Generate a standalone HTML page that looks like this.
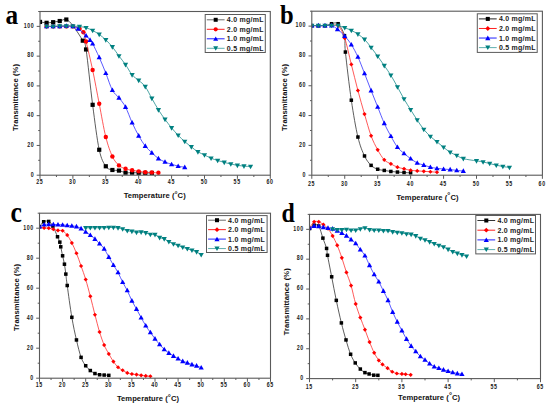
<!DOCTYPE html>
<html><head><meta charset="utf-8"><style>
html,body{margin:0;padding:0;background:#fff;}
body{width:550px;height:406px;overflow:hidden;font-family:"Liberation Sans",sans-serif;}
svg{display:block;}
</style></head><body>
<svg width="550" height="406" viewBox="0 0 550 406">
<rect width="550" height="406" fill="#fff"/>
<clipPath id="ca"><rect x="40.00" y="7.50" width="234.30" height="167.70"/></clipPath>
<g clip-path="url(#ca)"><path d="M40.00,21.92 C41.10,22.07 44.39,22.76 46.58,22.81 C48.77,22.86 50.97,22.51 53.16,22.21 C55.35,21.92 57.55,21.47 59.74,21.02 C61.93,20.58 64.13,18.77 66.32,19.54 C68.51,20.31 70.16,22.12 72.90,25.64 C75.64,29.16 80.58,36.70 82.77,40.67 C84.96,44.64 84.42,38.76 86.06,49.45 C87.70,60.14 90.45,88.09 92.64,104.81 C94.83,121.53 97.03,139.51 99.22,149.75 C101.41,160.00 103.61,162.90 105.80,166.27 C107.99,169.64 110.19,169.27 112.38,169.99 C114.57,170.71 116.77,170.14 118.96,170.59 C121.15,171.03 123.35,172.32 125.54,172.67 C127.73,173.02 129.93,172.65 132.12,172.67 C134.31,172.69 136.51,172.77 138.70,172.82 C140.89,172.87 143.09,172.94 145.28,172.97 C147.47,172.99 150.76,172.97 151.86,172.97" fill="none" stroke="#333333" stroke-width="0.80"/><rect x="37.90" y="19.82" width="4.20" height="4.20" fill="#000000"/><rect x="44.48" y="20.71" width="4.20" height="4.20" fill="#000000"/><rect x="51.06" y="20.11" width="4.20" height="4.20" fill="#000000"/><rect x="57.64" y="18.92" width="4.20" height="4.20" fill="#000000"/><rect x="64.22" y="17.44" width="4.20" height="4.20" fill="#000000"/><rect x="80.67" y="38.57" width="4.20" height="4.20" fill="#000000"/><rect x="83.96" y="47.35" width="4.20" height="4.20" fill="#000000"/><rect x="90.54" y="102.71" width="4.20" height="4.20" fill="#000000"/><rect x="97.12" y="147.65" width="4.20" height="4.20" fill="#000000"/><rect x="103.70" y="164.17" width="4.20" height="4.20" fill="#000000"/><rect x="110.28" y="167.89" width="4.20" height="4.20" fill="#000000"/><rect x="116.86" y="168.49" width="4.20" height="4.20" fill="#000000"/><rect x="123.44" y="170.57" width="4.20" height="4.20" fill="#000000"/><rect x="130.02" y="170.57" width="4.20" height="4.20" fill="#000000"/><rect x="136.60" y="170.72" width="4.20" height="4.20" fill="#000000"/><rect x="143.18" y="170.87" width="4.20" height="4.20" fill="#000000"/><rect x="149.76" y="170.87" width="4.20" height="4.20" fill="#000000"/><path d="M46.58,26.38 C47.68,26.38 50.97,26.38 53.16,26.38 C55.35,26.38 57.55,26.38 59.74,26.38 C61.93,26.38 64.13,26.38 66.32,26.38 C68.51,26.38 70.71,26.01 72.90,26.38 C75.09,26.75 77.73,27.65 79.48,28.61 C81.23,29.58 82.33,30.03 83.43,32.19 C84.52,34.34 84.52,35.26 86.06,41.56 C87.60,47.86 90.45,59.62 92.64,69.99 C94.83,80.35 97.03,92.61 99.22,103.77 C101.41,114.93 103.61,128.17 105.80,136.95 C107.99,145.73 110.19,151.71 112.38,156.45 C114.57,161.19 116.77,163.32 118.96,165.38 C121.15,167.44 123.35,167.98 125.54,168.80 C127.73,169.62 129.93,169.87 132.12,170.29 C134.31,170.71 136.51,171.01 138.70,171.33 C140.89,171.65 143.09,172.03 145.28,172.22 C147.47,172.42 149.67,172.42 151.86,172.52 C154.05,172.62 157.34,172.77 158.44,172.82" fill="none" stroke="#ff3030" stroke-width="0.80"/><circle cx="46.58" cy="26.38" r="2.20" fill="#ff0000"/><circle cx="53.16" cy="26.38" r="2.20" fill="#ff0000"/><circle cx="59.74" cy="26.38" r="2.20" fill="#ff0000"/><circle cx="66.32" cy="26.38" r="2.20" fill="#ff0000"/><circle cx="72.90" cy="26.38" r="2.20" fill="#ff0000"/><circle cx="79.48" cy="28.61" r="2.20" fill="#ff0000"/><circle cx="83.43" cy="32.19" r="2.20" fill="#ff0000"/><circle cx="86.06" cy="41.56" r="2.20" fill="#ff0000"/><circle cx="92.64" cy="69.99" r="2.20" fill="#ff0000"/><circle cx="99.22" cy="103.77" r="2.20" fill="#ff0000"/><circle cx="105.80" cy="136.95" r="2.20" fill="#ff0000"/><circle cx="112.38" cy="156.45" r="2.20" fill="#ff0000"/><circle cx="118.96" cy="165.38" r="2.20" fill="#ff0000"/><circle cx="125.54" cy="168.80" r="2.20" fill="#ff0000"/><circle cx="132.12" cy="170.29" r="2.20" fill="#ff0000"/><circle cx="138.70" cy="171.33" r="2.20" fill="#ff0000"/><circle cx="145.28" cy="172.22" r="2.20" fill="#ff0000"/><circle cx="151.86" cy="172.52" r="2.20" fill="#ff0000"/><circle cx="158.44" cy="172.82" r="2.20" fill="#ff0000"/><path d="M46.58,26.38 C47.68,26.38 50.97,26.38 53.16,26.38 C55.35,26.38 57.55,26.46 59.74,26.38 C61.93,26.31 64.13,25.94 66.32,25.94 C68.51,25.94 70.93,25.91 72.90,26.38 C74.87,26.85 75.97,27.23 78.16,28.76 C80.36,30.30 84.09,33.72 86.06,35.61 C88.03,37.49 88.91,38.73 90.01,40.07 C91.10,41.41 91.10,40.77 92.64,43.64 C94.18,46.52 97.03,52.42 99.22,57.34 C101.41,62.25 103.61,67.63 105.80,73.11 C107.99,78.59 110.19,86.11 112.38,90.22 C114.57,94.34 116.77,95.01 118.96,97.81 C121.15,100.62 123.35,102.90 125.54,107.04 C127.73,111.18 129.93,117.88 132.12,122.67 C134.31,127.45 136.51,131.87 138.70,135.76 C140.89,139.66 143.09,143.20 145.28,146.03 C147.47,148.86 149.67,150.64 151.86,152.73 C154.05,154.81 156.25,156.99 158.44,158.53 C160.63,160.07 162.83,160.99 165.02,161.96 C167.21,162.92 169.41,163.64 171.60,164.34 C173.79,165.03 175.99,165.63 178.18,166.12 C180.37,166.62 183.66,167.11 184.76,167.31" fill="none" stroke="#3030ff" stroke-width="0.80"/><path d="M46.58,23.68L49.18,28.28L43.98,28.28Z" fill="#0000ff"/><path d="M53.16,23.68L55.76,28.28L50.56,28.28Z" fill="#0000ff"/><path d="M59.74,23.68L62.34,28.28L57.14,28.28Z" fill="#0000ff"/><path d="M66.32,23.24L68.92,27.84L63.72,27.84Z" fill="#0000ff"/><path d="M72.90,23.68L75.50,28.28L70.30,28.28Z" fill="#0000ff"/><path d="M78.16,26.06L80.76,30.66L75.56,30.66Z" fill="#0000ff"/><path d="M86.06,32.91L88.66,37.51L83.46,37.51Z" fill="#0000ff"/><path d="M90.01,37.37L92.61,41.97L87.41,41.97Z" fill="#0000ff"/><path d="M92.64,40.94L95.24,45.54L90.04,45.54Z" fill="#0000ff"/><path d="M99.22,54.64L101.82,59.24L96.62,59.24Z" fill="#0000ff"/><path d="M105.80,70.41L108.40,75.01L103.20,75.01Z" fill="#0000ff"/><path d="M112.38,87.52L114.98,92.12L109.78,92.12Z" fill="#0000ff"/><path d="M118.96,95.11L121.56,99.71L116.36,99.71Z" fill="#0000ff"/><path d="M125.54,104.34L128.14,108.94L122.94,108.94Z" fill="#0000ff"/><path d="M132.12,119.97L134.72,124.57L129.52,124.57Z" fill="#0000ff"/><path d="M138.70,133.06L141.30,137.66L136.10,137.66Z" fill="#0000ff"/><path d="M145.28,143.33L147.88,147.93L142.68,147.93Z" fill="#0000ff"/><path d="M151.86,150.03L154.46,154.63L149.26,154.63Z" fill="#0000ff"/><path d="M158.44,155.83L161.04,160.43L155.84,160.43Z" fill="#0000ff"/><path d="M165.02,159.26L167.62,163.86L162.42,163.86Z" fill="#0000ff"/><path d="M171.60,161.64L174.20,166.24L169.00,166.24Z" fill="#0000ff"/><path d="M178.18,163.42L180.78,168.02L175.58,168.02Z" fill="#0000ff"/><path d="M184.76,164.61L187.36,169.21L182.16,169.21Z" fill="#0000ff"/><path d="M46.58,26.38 C47.68,26.38 50.97,26.46 53.16,26.38 C55.35,26.31 57.55,26.01 59.74,25.94 C61.93,25.86 64.13,25.94 66.32,25.94 C68.51,25.94 70.71,25.84 72.90,25.94 C75.09,26.03 77.29,26.23 79.48,26.53 C81.67,26.83 83.87,27.05 86.06,27.72 C88.25,28.39 90.45,29.43 92.64,30.55 C94.83,31.66 97.03,32.86 99.22,34.42 C101.41,35.98 103.61,37.84 105.80,39.92 C107.99,42.01 110.19,44.24 112.38,46.92 C114.57,49.60 116.77,53.05 118.96,56.00 C121.15,58.95 123.35,61.48 125.54,64.63 C127.73,67.78 129.93,72.27 132.12,74.90 C134.31,77.53 136.51,78.44 138.70,80.40 C140.89,82.36 143.09,83.65 145.28,86.65 C147.47,89.65 149.67,94.54 151.86,98.41 C154.05,102.28 156.25,106.37 158.44,109.87 C160.63,113.37 162.83,116.39 165.02,119.39 C167.21,122.39 169.41,125.22 171.60,127.88 C173.79,130.53 175.99,133.03 178.18,135.32 C180.37,137.60 182.57,139.63 184.76,141.57 C186.95,143.50 189.15,145.21 191.34,146.92 C193.53,148.64 195.73,150.50 197.92,151.84 C200.11,153.17 202.31,153.89 204.50,154.96 C206.69,156.03 208.89,157.32 211.08,158.23 C213.27,159.15 215.47,159.77 217.66,160.47 C219.85,161.16 222.05,161.81 224.24,162.40 C226.43,163.00 228.63,163.54 230.82,164.04 C233.01,164.53 235.21,165.03 237.40,165.38 C239.59,165.73 241.79,165.92 243.98,166.12 C246.17,166.32 249.46,166.49 250.56,166.57" fill="none" stroke="#1a8c8c" stroke-width="0.80"/><path d="M46.58,29.18L49.18,24.58L43.98,24.58Z" fill="#008080"/><path d="M53.16,29.18L55.76,24.58L50.56,24.58Z" fill="#008080"/><path d="M59.74,28.74L62.34,24.14L57.14,24.14Z" fill="#008080"/><path d="M66.32,28.74L68.92,24.14L63.72,24.14Z" fill="#008080"/><path d="M72.90,28.74L75.50,24.14L70.30,24.14Z" fill="#008080"/><path d="M79.48,29.33L82.08,24.73L76.88,24.73Z" fill="#008080"/><path d="M86.06,30.52L88.66,25.92L83.46,25.92Z" fill="#008080"/><path d="M92.64,33.35L95.24,28.75L90.04,28.75Z" fill="#008080"/><path d="M99.22,37.22L101.82,32.62L96.62,32.62Z" fill="#008080"/><path d="M105.80,42.72L108.40,38.12L103.20,38.12Z" fill="#008080"/><path d="M112.38,49.72L114.98,45.12L109.78,45.12Z" fill="#008080"/><path d="M118.96,58.80L121.56,54.20L116.36,54.20Z" fill="#008080"/><path d="M125.54,67.43L128.14,62.83L122.94,62.83Z" fill="#008080"/><path d="M132.12,77.70L134.72,73.10L129.52,73.10Z" fill="#008080"/><path d="M138.70,83.20L141.30,78.60L136.10,78.60Z" fill="#008080"/><path d="M145.28,89.45L147.88,84.85L142.68,84.85Z" fill="#008080"/><path d="M151.86,101.21L154.46,96.61L149.26,96.61Z" fill="#008080"/><path d="M158.44,112.67L161.04,108.07L155.84,108.07Z" fill="#008080"/><path d="M165.02,122.19L167.62,117.59L162.42,117.59Z" fill="#008080"/><path d="M171.60,130.68L174.20,126.08L169.00,126.08Z" fill="#008080"/><path d="M178.18,138.12L180.78,133.52L175.58,133.52Z" fill="#008080"/><path d="M184.76,144.37L187.36,139.77L182.16,139.77Z" fill="#008080"/><path d="M191.34,149.72L193.94,145.12L188.74,145.12Z" fill="#008080"/><path d="M197.92,154.64L200.52,150.04L195.32,150.04Z" fill="#008080"/><path d="M204.50,157.76L207.10,153.16L201.90,153.16Z" fill="#008080"/><path d="M211.08,161.03L213.68,156.43L208.48,156.43Z" fill="#008080"/><path d="M217.66,163.27L220.26,158.67L215.06,158.67Z" fill="#008080"/><path d="M224.24,165.20L226.84,160.60L221.64,160.60Z" fill="#008080"/><path d="M230.82,166.84L233.42,162.24L228.22,162.24Z" fill="#008080"/><path d="M237.40,168.18L240.00,163.58L234.80,163.58Z" fill="#008080"/><path d="M243.98,168.92L246.58,164.32L241.38,164.32Z" fill="#008080"/><path d="M250.56,169.37L253.16,164.77L247.96,164.77Z" fill="#008080"/></g>
<rect x="40.00" y="11.50" width="230.30" height="163.70" fill="none" stroke="#5a5a5a" stroke-width="1.1"/>
<line x1="40.00" y1="175.20" x2="40.00" y2="178.80" stroke="#5a5a5a" stroke-width="1"/>
<line x1="72.90" y1="175.20" x2="72.90" y2="178.80" stroke="#5a5a5a" stroke-width="1"/>
<line x1="105.80" y1="175.20" x2="105.80" y2="178.80" stroke="#5a5a5a" stroke-width="1"/>
<line x1="138.70" y1="175.20" x2="138.70" y2="178.80" stroke="#5a5a5a" stroke-width="1"/>
<line x1="171.60" y1="175.20" x2="171.60" y2="178.80" stroke="#5a5a5a" stroke-width="1"/>
<line x1="204.50" y1="175.20" x2="204.50" y2="178.80" stroke="#5a5a5a" stroke-width="1"/>
<line x1="237.40" y1="175.20" x2="237.40" y2="178.80" stroke="#5a5a5a" stroke-width="1"/>
<line x1="270.30" y1="175.20" x2="270.30" y2="178.80" stroke="#5a5a5a" stroke-width="1"/>
<line x1="56.45" y1="175.20" x2="56.45" y2="177.00" stroke="#5a5a5a" stroke-width="1"/>
<line x1="89.35" y1="175.20" x2="89.35" y2="177.00" stroke="#5a5a5a" stroke-width="1"/>
<line x1="122.25" y1="175.20" x2="122.25" y2="177.00" stroke="#5a5a5a" stroke-width="1"/>
<line x1="155.15" y1="175.20" x2="155.15" y2="177.00" stroke="#5a5a5a" stroke-width="1"/>
<line x1="188.05" y1="175.20" x2="188.05" y2="177.00" stroke="#5a5a5a" stroke-width="1"/>
<line x1="220.95" y1="175.20" x2="220.95" y2="177.00" stroke="#5a5a5a" stroke-width="1"/>
<line x1="253.85" y1="175.20" x2="253.85" y2="177.00" stroke="#5a5a5a" stroke-width="1"/>
<line x1="36.70" y1="175.20" x2="40.00" y2="175.20" stroke="#5a5a5a" stroke-width="1"/>
<line x1="36.70" y1="145.44" x2="40.00" y2="145.44" stroke="#5a5a5a" stroke-width="1"/>
<line x1="36.70" y1="115.67" x2="40.00" y2="115.67" stroke="#5a5a5a" stroke-width="1"/>
<line x1="36.70" y1="85.91" x2="40.00" y2="85.91" stroke="#5a5a5a" stroke-width="1"/>
<line x1="36.70" y1="56.15" x2="40.00" y2="56.15" stroke="#5a5a5a" stroke-width="1"/>
<line x1="36.70" y1="26.38" x2="40.00" y2="26.38" stroke="#5a5a5a" stroke-width="1"/>
<line x1="38.20" y1="160.32" x2="40.00" y2="160.32" stroke="#5a5a5a" stroke-width="1"/>
<line x1="38.20" y1="130.55" x2="40.00" y2="130.55" stroke="#5a5a5a" stroke-width="1"/>
<line x1="38.20" y1="100.79" x2="40.00" y2="100.79" stroke="#5a5a5a" stroke-width="1"/>
<line x1="38.20" y1="71.03" x2="40.00" y2="71.03" stroke="#5a5a5a" stroke-width="1"/>
<line x1="38.20" y1="41.26" x2="40.00" y2="41.26" stroke="#5a5a5a" stroke-width="1"/>
<line x1="38.20" y1="11.50" x2="40.00" y2="11.50" stroke="#5a5a5a" stroke-width="1"/>
<text transform="translate(39.80,184.20) scale(0.800,1)" font-size="6.6" font-family="Liberation Sans, sans-serif" font-weight="bold" text-anchor="middle" fill="#1a1a1a" letter-spacing="0.8">25</text>
<text transform="translate(72.70,184.20) scale(0.800,1)" font-size="6.6" font-family="Liberation Sans, sans-serif" font-weight="bold" text-anchor="middle" fill="#1a1a1a" letter-spacing="0.8">30</text>
<text transform="translate(105.60,184.20) scale(0.800,1)" font-size="6.6" font-family="Liberation Sans, sans-serif" font-weight="bold" text-anchor="middle" fill="#1a1a1a" letter-spacing="0.8">35</text>
<text transform="translate(138.50,184.20) scale(0.800,1)" font-size="6.6" font-family="Liberation Sans, sans-serif" font-weight="bold" text-anchor="middle" fill="#1a1a1a" letter-spacing="0.8">40</text>
<text transform="translate(171.40,184.20) scale(0.800,1)" font-size="6.6" font-family="Liberation Sans, sans-serif" font-weight="bold" text-anchor="middle" fill="#1a1a1a" letter-spacing="0.8">45</text>
<text transform="translate(204.30,184.20) scale(0.800,1)" font-size="6.6" font-family="Liberation Sans, sans-serif" font-weight="bold" text-anchor="middle" fill="#1a1a1a" letter-spacing="0.8">50</text>
<text transform="translate(237.20,184.20) scale(0.800,1)" font-size="6.6" font-family="Liberation Sans, sans-serif" font-weight="bold" text-anchor="middle" fill="#1a1a1a" letter-spacing="0.8">55</text>
<text transform="translate(270.10,184.20) scale(0.800,1)" font-size="6.6" font-family="Liberation Sans, sans-serif" font-weight="bold" text-anchor="middle" fill="#1a1a1a" letter-spacing="0.8">60</text>
<text transform="translate(34.40,176.50) scale(0.800,1)" font-size="6.6" font-family="Liberation Sans, sans-serif" font-weight="bold" text-anchor="end" fill="#1a1a1a" letter-spacing="0.8">0</text>
<text transform="translate(34.40,146.74) scale(0.800,1)" font-size="6.6" font-family="Liberation Sans, sans-serif" font-weight="bold" text-anchor="end" fill="#1a1a1a" letter-spacing="0.8">20</text>
<text transform="translate(34.40,116.97) scale(0.800,1)" font-size="6.6" font-family="Liberation Sans, sans-serif" font-weight="bold" text-anchor="end" fill="#1a1a1a" letter-spacing="0.8">40</text>
<text transform="translate(34.40,87.21) scale(0.800,1)" font-size="6.6" font-family="Liberation Sans, sans-serif" font-weight="bold" text-anchor="end" fill="#1a1a1a" letter-spacing="0.8">60</text>
<text transform="translate(34.40,57.45) scale(0.800,1)" font-size="6.6" font-family="Liberation Sans, sans-serif" font-weight="bold" text-anchor="end" fill="#1a1a1a" letter-spacing="0.8">80</text>
<text transform="translate(34.40,27.68) scale(0.800,1)" font-size="6.6" font-family="Liberation Sans, sans-serif" font-weight="bold" text-anchor="end" fill="#1a1a1a" letter-spacing="0.8">100</text>
<text x="154.70" y="198.30" font-size="7.6" font-family="Liberation Sans, sans-serif" font-weight="bold" text-anchor="middle" fill="#111" letter-spacing="0.06">Temperature (<tspan dy="-1.4">&#176;</tspan><tspan dy="1.4">C)</tspan></text>
<text transform="translate(17.80,97.50) rotate(-90)" font-size="7.6" font-family="Liberation Sans, sans-serif" font-weight="bold" text-anchor="middle" fill="#111" letter-spacing="0.1">Transmittance (%)</text>
<text transform="translate(5.60,24.10) scale(0.920,1)" font-size="27.5" font-family="Liberation Serif, serif" font-weight="bold" fill="#000">a</text>
<rect x="205.20" y="14.50" width="60.10" height="38.00" fill="#fff" stroke="#5a5a5a" stroke-width="1"/>
<line x1="206.80" y1="19.80" x2="224.60" y2="19.80" stroke="#6a6a6a" stroke-width="1"/>
<rect x="213.70" y="17.80" width="3.99" height="3.99" fill="#000000"/>
<text x="226.80" y="22.30" font-size="7" font-family="Liberation Sans, sans-serif" font-weight="bold" fill="#1a1a1a" letter-spacing="0.25">4.0 mg/mL</text>
<line x1="206.80" y1="29.30" x2="224.60" y2="29.30" stroke="#ff2020" stroke-width="1"/>
<circle cx="215.70" cy="29.30" r="2.09" fill="#ff0000"/>
<text x="226.80" y="31.80" font-size="7" font-family="Liberation Sans, sans-serif" font-weight="bold" fill="#1a1a1a" letter-spacing="0.25">2.0 mg/mL</text>
<line x1="206.80" y1="38.80" x2="224.60" y2="38.80" stroke="#2020ff" stroke-width="1"/>
<path d="M215.70,36.47L218.17,40.84L213.23,40.84Z" fill="#0000ff"/>
<text x="226.80" y="41.30" font-size="7" font-family="Liberation Sans, sans-serif" font-weight="bold" fill="#1a1a1a" letter-spacing="0.25">1.0 mg/mL</text>
<line x1="206.80" y1="48.30" x2="224.60" y2="48.30" stroke="#60b0b0" stroke-width="1"/>
<path d="M215.70,50.63L218.17,46.26L213.23,46.26Z" fill="#008080"/>
<text x="226.80" y="50.80" font-size="7" font-family="Liberation Sans, sans-serif" font-weight="bold" fill="#1a1a1a" letter-spacing="0.25">0.5 mg/mL</text>
<clipPath id="cb"><rect x="311.80" y="7.20" width="234.60" height="168.00"/></clipPath>
<g clip-path="url(#cb)"><path d="M311.80,25.81 C312.90,25.81 316.19,25.81 318.39,25.81 C320.58,25.81 322.78,26.16 324.98,25.81 C327.17,25.46 329.37,24.07 331.57,23.72 C333.76,23.38 336.00,21.74 338.15,23.72 C340.31,25.71 343.27,30.93 344.48,35.65 C345.69,40.37 344.26,41.29 345.40,52.05 C346.54,62.81 349.25,86.04 351.33,100.21 C353.42,114.37 355.72,127.74 357.92,137.03 C360.12,146.33 362.31,151.25 364.51,155.97 C366.70,160.69 368.90,163.15 371.10,165.36 C373.29,167.57 375.49,168.39 377.69,169.24 C379.88,170.08 382.08,170.06 384.27,170.43 C386.47,170.80 388.67,171.20 390.86,171.47 C393.06,171.75 395.26,171.90 397.45,172.07 C399.65,172.24 401.84,172.39 404.04,172.52 C406.24,172.64 409.53,172.76 410.63,172.81" fill="none" stroke="#333333" stroke-width="0.80"/><rect x="310.05" y="24.06" width="3.50" height="3.50" fill="#000000"/><rect x="316.64" y="24.06" width="3.50" height="3.50" fill="#000000"/><rect x="323.23" y="24.06" width="3.50" height="3.50" fill="#000000"/><rect x="329.82" y="21.97" width="3.50" height="3.50" fill="#000000"/><rect x="336.40" y="21.97" width="3.50" height="3.50" fill="#000000"/><rect x="342.73" y="33.90" width="3.50" height="3.50" fill="#000000"/><rect x="343.65" y="50.30" width="3.50" height="3.50" fill="#000000"/><rect x="349.58" y="98.46" width="3.50" height="3.50" fill="#000000"/><rect x="356.17" y="135.28" width="3.50" height="3.50" fill="#000000"/><rect x="362.76" y="154.22" width="3.50" height="3.50" fill="#000000"/><rect x="369.35" y="163.61" width="3.50" height="3.50" fill="#000000"/><rect x="375.94" y="167.49" width="3.50" height="3.50" fill="#000000"/><rect x="382.52" y="168.68" width="3.50" height="3.50" fill="#000000"/><rect x="389.11" y="169.72" width="3.50" height="3.50" fill="#000000"/><rect x="395.70" y="170.32" width="3.50" height="3.50" fill="#000000"/><rect x="402.29" y="170.77" width="3.50" height="3.50" fill="#000000"/><rect x="408.88" y="171.06" width="3.50" height="3.50" fill="#000000"/><path d="M311.80,25.51 C312.90,25.51 316.19,25.51 318.39,25.51 C320.58,25.51 322.78,25.51 324.98,25.51 C327.17,25.51 329.37,25.46 331.57,25.51 C333.76,25.56 335.96,23.70 338.15,25.81 C340.35,27.92 342.55,31.75 344.74,38.19 C346.94,44.62 349.14,55.70 351.33,64.43 C353.53,73.15 355.72,82.24 357.92,90.52 C360.12,98.79 362.31,106.52 364.51,114.07 C366.70,121.63 368.90,129.88 371.10,135.84 C373.29,141.80 375.49,145.85 377.69,149.85 C379.88,153.86 382.08,157.51 384.27,159.84 C386.47,162.18 388.67,162.65 390.86,163.87 C393.06,165.09 395.26,166.33 397.45,167.15 C399.65,167.97 401.84,168.27 404.04,168.79 C406.24,169.31 408.43,169.93 410.63,170.28 C412.82,170.63 415.02,170.70 417.22,170.88 C419.41,171.05 421.61,171.17 423.81,171.32 C426.00,171.47 428.20,171.62 430.39,171.77 C432.59,171.92 435.88,172.14 436.98,172.22" fill="none" stroke="#ff3030" stroke-width="0.80"/><path d="M311.80,23.41L313.90,25.51L311.80,27.61L309.70,25.51Z" fill="#ff0000"/><path d="M318.39,23.41L320.49,25.51L318.39,27.61L316.29,25.51Z" fill="#ff0000"/><path d="M324.98,23.41L327.08,25.51L324.98,27.61L322.88,25.51Z" fill="#ff0000"/><path d="M331.57,23.41L333.67,25.51L331.57,27.61L329.47,25.51Z" fill="#ff0000"/><path d="M338.15,23.71L340.25,25.81L338.15,27.91L336.05,25.81Z" fill="#ff0000"/><path d="M344.74,36.09L346.84,38.19L344.74,40.29L342.64,38.19Z" fill="#ff0000"/><path d="M351.33,62.33L353.43,64.43L351.33,66.53L349.23,64.43Z" fill="#ff0000"/><path d="M357.92,88.42L360.02,90.52L357.92,92.62L355.82,90.52Z" fill="#ff0000"/><path d="M364.51,111.97L366.61,114.07L364.51,116.17L362.41,114.07Z" fill="#ff0000"/><path d="M371.10,133.74L373.20,135.84L371.10,137.94L369.00,135.84Z" fill="#ff0000"/><path d="M377.69,147.75L379.79,149.85L377.69,151.95L375.59,149.85Z" fill="#ff0000"/><path d="M384.27,157.74L386.37,159.84L384.27,161.94L382.17,159.84Z" fill="#ff0000"/><path d="M390.86,161.77L392.96,163.87L390.86,165.97L388.76,163.87Z" fill="#ff0000"/><path d="M397.45,165.05L399.55,167.15L397.45,169.25L395.35,167.15Z" fill="#ff0000"/><path d="M404.04,166.69L406.14,168.79L404.04,170.89L401.94,168.79Z" fill="#ff0000"/><path d="M410.63,168.18L412.73,170.28L410.63,172.38L408.53,170.28Z" fill="#ff0000"/><path d="M417.22,168.78L419.32,170.88L417.22,172.98L415.12,170.88Z" fill="#ff0000"/><path d="M423.81,169.22L425.91,171.32L423.81,173.42L421.71,171.32Z" fill="#ff0000"/><path d="M430.39,169.67L432.49,171.77L430.39,173.87L428.29,171.77Z" fill="#ff0000"/><path d="M436.98,170.12L439.08,172.22L436.98,174.32L434.88,172.22Z" fill="#ff0000"/><path d="M311.80,25.51 C312.90,25.51 316.19,25.51 318.39,25.51 C320.58,25.51 322.78,25.51 324.98,25.51 C327.17,25.51 329.48,24.89 331.57,25.51 C333.65,26.13 335.30,27.48 337.50,29.24 C339.69,31.00 342.44,33.54 344.74,36.10 C347.05,38.66 349.14,41.12 351.33,44.60 C353.53,48.08 355.72,52.18 357.92,56.97 C360.12,61.77 362.31,67.78 364.51,73.37 C366.70,78.96 368.90,84.93 371.10,90.52 C373.29,96.11 375.49,101.45 377.69,106.92 C379.88,112.38 382.08,118.45 384.27,123.32 C386.47,128.19 388.67,132.16 390.86,136.14 C393.06,140.11 395.26,144.29 397.45,147.17 C399.65,150.05 401.84,151.52 404.04,153.43 C406.24,155.35 408.43,157.06 410.63,158.65 C412.82,160.24 415.02,161.91 417.22,162.97 C419.41,164.04 421.61,164.37 423.81,165.06 C426.00,165.76 428.20,166.60 430.39,167.15 C432.59,167.70 434.79,168.02 436.98,168.34 C439.18,168.66 441.38,168.89 443.57,169.09 C445.77,169.29 447.96,169.31 450.16,169.53 C452.36,169.76 454.55,170.18 456.75,170.43 C458.94,170.68 462.24,170.93 463.34,171.03" fill="none" stroke="#3030ff" stroke-width="0.80"/><path d="M311.80,22.81L314.40,27.41L309.20,27.41Z" fill="#0000ff"/><path d="M318.39,22.81L320.99,27.41L315.79,27.41Z" fill="#0000ff"/><path d="M324.98,22.81L327.58,27.41L322.38,27.41Z" fill="#0000ff"/><path d="M331.57,22.81L334.17,27.41L328.97,27.41Z" fill="#0000ff"/><path d="M337.50,26.54L340.10,31.14L334.90,31.14Z" fill="#0000ff"/><path d="M344.74,33.40L347.34,38.00L342.14,38.00Z" fill="#0000ff"/><path d="M351.33,41.90L353.93,46.50L348.73,46.50Z" fill="#0000ff"/><path d="M357.92,54.27L360.52,58.87L355.32,58.87Z" fill="#0000ff"/><path d="M364.51,70.67L367.11,75.27L361.91,75.27Z" fill="#0000ff"/><path d="M371.10,87.82L373.70,92.42L368.50,92.42Z" fill="#0000ff"/><path d="M377.69,104.22L380.29,108.82L375.09,108.82Z" fill="#0000ff"/><path d="M384.27,120.62L386.87,125.22L381.67,125.22Z" fill="#0000ff"/><path d="M390.86,133.44L393.46,138.04L388.26,138.04Z" fill="#0000ff"/><path d="M397.45,144.47L400.05,149.07L394.85,149.07Z" fill="#0000ff"/><path d="M404.04,150.73L406.64,155.33L401.44,155.33Z" fill="#0000ff"/><path d="M410.63,155.95L413.23,160.55L408.03,160.55Z" fill="#0000ff"/><path d="M417.22,160.27L419.82,164.87L414.62,164.87Z" fill="#0000ff"/><path d="M423.81,162.36L426.41,166.96L421.21,166.96Z" fill="#0000ff"/><path d="M430.39,164.45L432.99,169.05L427.79,169.05Z" fill="#0000ff"/><path d="M436.98,165.64L439.58,170.24L434.38,170.24Z" fill="#0000ff"/><path d="M443.57,166.39L446.17,170.99L440.97,170.99Z" fill="#0000ff"/><path d="M450.16,166.83L452.76,171.43L447.56,171.43Z" fill="#0000ff"/><path d="M456.75,167.73L459.35,172.33L454.15,172.33Z" fill="#0000ff"/><path d="M463.34,168.33L465.94,172.93L460.74,172.93Z" fill="#0000ff"/><path d="M311.80,25.51 C312.90,25.51 316.19,25.51 318.39,25.51 C320.58,25.51 322.78,25.51 324.98,25.51 C327.17,25.51 329.37,25.51 331.57,25.51 C333.76,25.51 335.96,25.14 338.15,25.51 C340.35,25.89 342.55,26.93 344.74,27.75 C346.94,28.57 349.14,29.36 351.33,30.43 C353.53,31.50 355.72,32.67 357.92,34.16 C360.12,35.65 362.31,37.17 364.51,39.38 C366.70,41.59 368.90,44.62 371.10,47.43 C373.29,50.24 375.49,53.19 377.69,56.23 C379.88,59.26 382.08,62.44 384.27,65.62 C386.47,68.80 388.67,71.76 390.86,75.31 C393.06,78.86 395.26,82.99 397.45,86.94 C399.65,90.89 401.84,95.21 404.04,99.01 C406.24,102.82 408.43,106.25 410.63,109.75 C412.82,113.25 415.02,116.76 417.22,120.04 C419.41,123.32 421.61,126.70 423.81,129.43 C426.00,132.16 428.20,134.37 430.39,136.44 C432.59,138.50 434.79,139.99 436.98,141.80 C439.18,143.62 441.38,145.58 443.57,147.32 C445.77,149.06 447.96,150.87 450.16,152.24 C452.36,153.61 454.55,154.45 456.75,155.52 C458.94,156.59 460.04,157.76 463.34,158.65 C466.63,159.55 473.22,160.34 476.51,160.89 C479.81,161.43 480.91,161.48 483.10,161.93 C485.30,162.38 487.50,163.02 489.69,163.57 C491.89,164.12 494.08,164.71 496.28,165.21 C498.48,165.71 500.67,166.18 502.87,166.55 C505.06,166.93 508.36,167.30 509.46,167.45" fill="none" stroke="#1a8c8c" stroke-width="0.80"/><path d="M311.80,28.31L314.40,23.71L309.20,23.71Z" fill="#008080"/><path d="M318.39,28.31L320.99,23.71L315.79,23.71Z" fill="#008080"/><path d="M324.98,28.31L327.58,23.71L322.38,23.71Z" fill="#008080"/><path d="M331.57,28.31L334.17,23.71L328.97,23.71Z" fill="#008080"/><path d="M338.15,28.31L340.75,23.71L335.55,23.71Z" fill="#008080"/><path d="M344.74,30.55L347.34,25.95L342.14,25.95Z" fill="#008080"/><path d="M351.33,33.23L353.93,28.63L348.73,28.63Z" fill="#008080"/><path d="M357.92,36.96L360.52,32.36L355.32,32.36Z" fill="#008080"/><path d="M364.51,42.18L367.11,37.58L361.91,37.58Z" fill="#008080"/><path d="M371.10,50.23L373.70,45.63L368.50,45.63Z" fill="#008080"/><path d="M377.69,59.03L380.29,54.43L375.09,54.43Z" fill="#008080"/><path d="M384.27,68.42L386.87,63.82L381.67,63.82Z" fill="#008080"/><path d="M390.86,78.11L393.46,73.51L388.26,73.51Z" fill="#008080"/><path d="M397.45,89.74L400.05,85.14L394.85,85.14Z" fill="#008080"/><path d="M404.04,101.81L406.64,97.21L401.44,97.21Z" fill="#008080"/><path d="M410.63,112.55L413.23,107.95L408.03,107.95Z" fill="#008080"/><path d="M417.22,122.84L419.82,118.24L414.62,118.24Z" fill="#008080"/><path d="M423.81,132.23L426.41,127.63L421.21,127.63Z" fill="#008080"/><path d="M430.39,139.24L432.99,134.64L427.79,134.64Z" fill="#008080"/><path d="M436.98,144.60L439.58,140.00L434.38,140.00Z" fill="#008080"/><path d="M443.57,150.12L446.17,145.52L440.97,145.52Z" fill="#008080"/><path d="M450.16,155.04L452.76,150.44L447.56,150.44Z" fill="#008080"/><path d="M456.75,158.32L459.35,153.72L454.15,153.72Z" fill="#008080"/><path d="M463.34,161.45L465.94,156.85L460.74,156.85Z" fill="#008080"/><path d="M476.51,163.69L479.11,159.09L473.91,159.09Z" fill="#008080"/><path d="M483.10,164.73L485.70,160.13L480.50,160.13Z" fill="#008080"/><path d="M489.69,166.37L492.29,161.77L487.09,161.77Z" fill="#008080"/><path d="M496.28,168.01L498.88,163.41L493.68,163.41Z" fill="#008080"/><path d="M502.87,169.35L505.47,164.75L500.27,164.75Z" fill="#008080"/><path d="M509.46,170.25L512.06,165.65L506.86,165.65Z" fill="#008080"/></g>
<rect x="311.80" y="11.20" width="230.60" height="164.00" fill="none" stroke="#5a5a5a" stroke-width="1.1"/>
<line x1="311.80" y1="175.20" x2="311.80" y2="178.80" stroke="#5a5a5a" stroke-width="1"/>
<line x1="344.74" y1="175.20" x2="344.74" y2="178.80" stroke="#5a5a5a" stroke-width="1"/>
<line x1="377.69" y1="175.20" x2="377.69" y2="178.80" stroke="#5a5a5a" stroke-width="1"/>
<line x1="410.63" y1="175.20" x2="410.63" y2="178.80" stroke="#5a5a5a" stroke-width="1"/>
<line x1="443.57" y1="175.20" x2="443.57" y2="178.80" stroke="#5a5a5a" stroke-width="1"/>
<line x1="476.51" y1="175.20" x2="476.51" y2="178.80" stroke="#5a5a5a" stroke-width="1"/>
<line x1="509.46" y1="175.20" x2="509.46" y2="178.80" stroke="#5a5a5a" stroke-width="1"/>
<line x1="542.40" y1="175.20" x2="542.40" y2="178.80" stroke="#5a5a5a" stroke-width="1"/>
<line x1="328.27" y1="175.20" x2="328.27" y2="177.00" stroke="#5a5a5a" stroke-width="1"/>
<line x1="361.21" y1="175.20" x2="361.21" y2="177.00" stroke="#5a5a5a" stroke-width="1"/>
<line x1="394.16" y1="175.20" x2="394.16" y2="177.00" stroke="#5a5a5a" stroke-width="1"/>
<line x1="427.10" y1="175.20" x2="427.10" y2="177.00" stroke="#5a5a5a" stroke-width="1"/>
<line x1="460.04" y1="175.20" x2="460.04" y2="177.00" stroke="#5a5a5a" stroke-width="1"/>
<line x1="492.99" y1="175.20" x2="492.99" y2="177.00" stroke="#5a5a5a" stroke-width="1"/>
<line x1="525.93" y1="175.20" x2="525.93" y2="177.00" stroke="#5a5a5a" stroke-width="1"/>
<line x1="308.50" y1="175.20" x2="311.80" y2="175.20" stroke="#5a5a5a" stroke-width="1"/>
<line x1="308.50" y1="145.38" x2="311.80" y2="145.38" stroke="#5a5a5a" stroke-width="1"/>
<line x1="308.50" y1="115.56" x2="311.80" y2="115.56" stroke="#5a5a5a" stroke-width="1"/>
<line x1="308.50" y1="85.75" x2="311.80" y2="85.75" stroke="#5a5a5a" stroke-width="1"/>
<line x1="308.50" y1="55.93" x2="311.80" y2="55.93" stroke="#5a5a5a" stroke-width="1"/>
<line x1="308.50" y1="26.11" x2="311.80" y2="26.11" stroke="#5a5a5a" stroke-width="1"/>
<line x1="310.00" y1="160.29" x2="311.80" y2="160.29" stroke="#5a5a5a" stroke-width="1"/>
<line x1="310.00" y1="130.47" x2="311.80" y2="130.47" stroke="#5a5a5a" stroke-width="1"/>
<line x1="310.00" y1="100.65" x2="311.80" y2="100.65" stroke="#5a5a5a" stroke-width="1"/>
<line x1="310.00" y1="70.84" x2="311.80" y2="70.84" stroke="#5a5a5a" stroke-width="1"/>
<line x1="310.00" y1="41.02" x2="311.80" y2="41.02" stroke="#5a5a5a" stroke-width="1"/>
<line x1="310.00" y1="11.20" x2="311.80" y2="11.20" stroke="#5a5a5a" stroke-width="1"/>
<text transform="translate(311.60,186.10) scale(0.800,1)" font-size="6.6" font-family="Liberation Sans, sans-serif" font-weight="bold" text-anchor="middle" fill="#1a1a1a" letter-spacing="0.8">25</text>
<text transform="translate(344.54,186.10) scale(0.800,1)" font-size="6.6" font-family="Liberation Sans, sans-serif" font-weight="bold" text-anchor="middle" fill="#1a1a1a" letter-spacing="0.8">30</text>
<text transform="translate(377.49,186.10) scale(0.800,1)" font-size="6.6" font-family="Liberation Sans, sans-serif" font-weight="bold" text-anchor="middle" fill="#1a1a1a" letter-spacing="0.8">35</text>
<text transform="translate(410.43,186.10) scale(0.800,1)" font-size="6.6" font-family="Liberation Sans, sans-serif" font-weight="bold" text-anchor="middle" fill="#1a1a1a" letter-spacing="0.8">40</text>
<text transform="translate(443.37,186.10) scale(0.800,1)" font-size="6.6" font-family="Liberation Sans, sans-serif" font-weight="bold" text-anchor="middle" fill="#1a1a1a" letter-spacing="0.8">45</text>
<text transform="translate(476.31,186.10) scale(0.800,1)" font-size="6.6" font-family="Liberation Sans, sans-serif" font-weight="bold" text-anchor="middle" fill="#1a1a1a" letter-spacing="0.8">50</text>
<text transform="translate(509.26,186.10) scale(0.800,1)" font-size="6.6" font-family="Liberation Sans, sans-serif" font-weight="bold" text-anchor="middle" fill="#1a1a1a" letter-spacing="0.8">55</text>
<text transform="translate(542.20,186.10) scale(0.800,1)" font-size="6.6" font-family="Liberation Sans, sans-serif" font-weight="bold" text-anchor="middle" fill="#1a1a1a" letter-spacing="0.8">60</text>
<text transform="translate(306.20,176.50) scale(0.800,1)" font-size="6.6" font-family="Liberation Sans, sans-serif" font-weight="bold" text-anchor="end" fill="#1a1a1a" letter-spacing="0.8">0</text>
<text transform="translate(306.20,146.68) scale(0.800,1)" font-size="6.6" font-family="Liberation Sans, sans-serif" font-weight="bold" text-anchor="end" fill="#1a1a1a" letter-spacing="0.8">20</text>
<text transform="translate(306.20,116.86) scale(0.800,1)" font-size="6.6" font-family="Liberation Sans, sans-serif" font-weight="bold" text-anchor="end" fill="#1a1a1a" letter-spacing="0.8">40</text>
<text transform="translate(306.20,87.05) scale(0.800,1)" font-size="6.6" font-family="Liberation Sans, sans-serif" font-weight="bold" text-anchor="end" fill="#1a1a1a" letter-spacing="0.8">60</text>
<text transform="translate(306.20,57.23) scale(0.800,1)" font-size="6.6" font-family="Liberation Sans, sans-serif" font-weight="bold" text-anchor="end" fill="#1a1a1a" letter-spacing="0.8">80</text>
<text transform="translate(306.20,27.41) scale(0.800,1)" font-size="6.6" font-family="Liberation Sans, sans-serif" font-weight="bold" text-anchor="end" fill="#1a1a1a" letter-spacing="0.8">100</text>
<text x="427.50" y="199.80" font-size="7.6" font-family="Liberation Sans, sans-serif" font-weight="bold" text-anchor="middle" fill="#111" letter-spacing="0.06">Temperature (<tspan dy="-1.4">&#176;</tspan><tspan dy="1.4">C)</tspan></text>
<text transform="translate(287.20,97.40) rotate(-90)" font-size="7.6" font-family="Liberation Sans, sans-serif" font-weight="bold" text-anchor="middle" fill="#111" letter-spacing="0.1">Transmittance (%)</text>
<text transform="translate(280.00,24.00) scale(0.910,1)" font-size="27" font-family="Liberation Serif, serif" font-weight="bold" fill="#000">b</text>
<rect x="477.30" y="13.80" width="59.90" height="38.60" fill="#fff" stroke="#5a5a5a" stroke-width="1"/>
<line x1="478.90" y1="18.90" x2="496.70" y2="18.90" stroke="#222" stroke-width="1"/>
<rect x="485.79" y="16.89" width="4.02" height="4.02" fill="#000000"/>
<text x="498.90" y="21.40" font-size="7" font-family="Liberation Sans, sans-serif" font-weight="bold" fill="#1a1a1a" letter-spacing="0.25">4.0 mg/mL</text>
<line x1="478.90" y1="28.47" x2="496.70" y2="28.47" stroke="#ff2020" stroke-width="1"/>
<path d="M487.80,26.05L490.22,28.47L487.80,30.88L485.38,28.47Z" fill="#ff0000"/>
<text x="498.90" y="30.97" font-size="7" font-family="Liberation Sans, sans-serif" font-weight="bold" fill="#1a1a1a" letter-spacing="0.25">2.0 mg/mL</text>
<line x1="478.90" y1="38.04" x2="496.70" y2="38.04" stroke="#2020ff" stroke-width="1"/>
<path d="M487.80,35.59L490.40,40.19L485.20,40.19Z" fill="#0000ff"/>
<text x="498.90" y="40.54" font-size="7" font-family="Liberation Sans, sans-serif" font-weight="bold" fill="#1a1a1a" letter-spacing="0.25">1.0 mg/mL</text>
<line x1="478.90" y1="47.61" x2="496.70" y2="47.61" stroke="#60b0b0" stroke-width="1"/>
<path d="M487.80,50.06L490.40,45.46L485.20,45.46Z" fill="#008080"/>
<text x="498.90" y="50.11" font-size="7" font-family="Liberation Sans, sans-serif" font-weight="bold" fill="#1a1a1a" letter-spacing="0.25">0.5 mg/mL</text>
<clipPath id="cc"><rect x="39.50" y="209.20" width="235.00" height="169.00"/></clipPath>
<g clip-path="url(#cc)"><path d="M39.50,226.70 C40.19,225.88 42.12,222.62 43.66,221.75 C45.20,220.88 47.20,220.72 48.74,221.45 C50.28,222.17 51.43,223.55 52.90,226.10 C54.36,228.65 56.36,234.07 57.52,236.75 C58.67,239.42 59.29,240.47 59.83,242.15 C60.37,243.82 60.29,244.53 60.75,246.80 C61.21,249.08 61.98,252.90 62.60,255.80 C63.22,258.70 63.91,261.15 64.45,264.20 C64.99,267.25 65.37,270.55 65.83,274.10 C66.30,277.65 66.22,278.30 67.22,285.50 C68.22,292.70 70.30,308.23 71.84,317.30 C73.38,326.38 74.92,333.27 76.46,339.95 C78.00,346.62 79.54,353.05 81.08,357.35 C82.62,361.65 84.16,363.55 85.70,365.75 C87.24,367.95 88.78,369.25 90.32,370.55 C91.86,371.85 93.40,372.85 94.94,373.55 C96.48,374.25 98.02,374.50 99.56,374.75 C101.10,375.00 102.64,374.95 104.18,375.05 C105.72,375.15 108.03,375.30 108.80,375.35" fill="none" stroke="#333333" stroke-width="0.80"/><rect x="37.75" y="224.95" width="3.50" height="3.50" fill="#000000"/><rect x="41.91" y="220.00" width="3.50" height="3.50" fill="#000000"/><rect x="46.99" y="219.70" width="3.50" height="3.50" fill="#000000"/><rect x="51.15" y="224.35" width="3.50" height="3.50" fill="#000000"/><rect x="55.77" y="235.00" width="3.50" height="3.50" fill="#000000"/><rect x="58.08" y="240.40" width="3.50" height="3.50" fill="#000000"/><rect x="59.00" y="245.05" width="3.50" height="3.50" fill="#000000"/><rect x="60.85" y="254.05" width="3.50" height="3.50" fill="#000000"/><rect x="62.70" y="262.45" width="3.50" height="3.50" fill="#000000"/><rect x="64.08" y="272.35" width="3.50" height="3.50" fill="#000000"/><rect x="65.47" y="283.75" width="3.50" height="3.50" fill="#000000"/><rect x="70.09" y="315.55" width="3.50" height="3.50" fill="#000000"/><rect x="74.71" y="338.20" width="3.50" height="3.50" fill="#000000"/><rect x="79.33" y="355.60" width="3.50" height="3.50" fill="#000000"/><rect x="83.95" y="364.00" width="3.50" height="3.50" fill="#000000"/><rect x="88.57" y="368.80" width="3.50" height="3.50" fill="#000000"/><rect x="93.19" y="371.80" width="3.50" height="3.50" fill="#000000"/><rect x="97.81" y="373.00" width="3.50" height="3.50" fill="#000000"/><rect x="102.43" y="373.30" width="3.50" height="3.50" fill="#000000"/><rect x="107.05" y="373.60" width="3.50" height="3.50" fill="#000000"/><path d="M39.50,227.30 C40.27,227.40 42.58,227.75 44.12,227.90 C45.66,228.05 47.20,227.97 48.74,228.20 C50.28,228.42 51.82,228.88 53.36,229.25 C54.90,229.62 56.44,230.20 57.98,230.45 C59.52,230.70 61.06,229.97 62.60,230.75 C64.14,231.53 65.68,233.07 67.22,235.10 C68.76,237.12 70.30,239.87 71.84,242.90 C73.38,245.92 74.92,249.40 76.46,253.25 C78.00,257.10 79.54,261.62 81.08,266.00 C82.62,270.38 84.16,274.45 85.70,279.50 C87.24,284.55 88.78,290.42 90.32,296.30 C91.86,302.17 93.40,308.80 94.94,314.75 C96.48,320.70 98.02,326.95 99.56,332.00 C101.10,337.05 102.64,341.40 104.18,345.05 C105.72,348.70 107.26,351.15 108.80,353.90 C110.34,356.65 111.88,359.32 113.42,361.55 C114.96,363.78 116.50,365.80 118.04,367.25 C119.58,368.70 121.12,369.30 122.66,370.25 C124.20,371.20 125.74,372.32 127.28,372.95 C128.82,373.57 130.36,373.73 131.90,374.00 C133.44,374.27 134.98,374.38 136.52,374.60 C138.06,374.82 139.60,375.12 141.14,375.35 C142.68,375.57 144.22,375.80 145.76,375.95 C147.30,376.10 149.61,376.20 150.38,376.25" fill="none" stroke="#ff3030" stroke-width="0.80"/><path d="M39.50,225.20L41.60,227.30L39.50,229.40L37.40,227.30Z" fill="#ff0000"/><path d="M44.12,225.80L46.22,227.90L44.12,230.00L42.02,227.90Z" fill="#ff0000"/><path d="M48.74,226.10L50.84,228.20L48.74,230.30L46.64,228.20Z" fill="#ff0000"/><path d="M53.36,227.15L55.46,229.25L53.36,231.35L51.26,229.25Z" fill="#ff0000"/><path d="M57.98,228.35L60.08,230.45L57.98,232.55L55.88,230.45Z" fill="#ff0000"/><path d="M62.60,228.65L64.70,230.75L62.60,232.85L60.50,230.75Z" fill="#ff0000"/><path d="M67.22,233.00L69.32,235.10L67.22,237.20L65.12,235.10Z" fill="#ff0000"/><path d="M71.84,240.80L73.94,242.90L71.84,245.00L69.74,242.90Z" fill="#ff0000"/><path d="M76.46,251.15L78.56,253.25L76.46,255.35L74.36,253.25Z" fill="#ff0000"/><path d="M81.08,263.90L83.18,266.00L81.08,268.10L78.98,266.00Z" fill="#ff0000"/><path d="M85.70,277.40L87.80,279.50L85.70,281.60L83.60,279.50Z" fill="#ff0000"/><path d="M90.32,294.20L92.42,296.30L90.32,298.40L88.22,296.30Z" fill="#ff0000"/><path d="M94.94,312.65L97.04,314.75L94.94,316.85L92.84,314.75Z" fill="#ff0000"/><path d="M99.56,329.90L101.66,332.00L99.56,334.10L97.46,332.00Z" fill="#ff0000"/><path d="M104.18,342.95L106.28,345.05L104.18,347.15L102.08,345.05Z" fill="#ff0000"/><path d="M108.80,351.80L110.90,353.90L108.80,356.00L106.70,353.90Z" fill="#ff0000"/><path d="M113.42,359.45L115.52,361.55L113.42,363.65L111.32,361.55Z" fill="#ff0000"/><path d="M118.04,365.15L120.14,367.25L118.04,369.35L115.94,367.25Z" fill="#ff0000"/><path d="M122.66,368.15L124.76,370.25L122.66,372.35L120.56,370.25Z" fill="#ff0000"/><path d="M127.28,370.85L129.38,372.95L127.28,375.05L125.18,372.95Z" fill="#ff0000"/><path d="M131.90,371.90L134.00,374.00L131.90,376.10L129.80,374.00Z" fill="#ff0000"/><path d="M136.52,372.50L138.62,374.60L136.52,376.70L134.42,374.60Z" fill="#ff0000"/><path d="M141.14,373.25L143.24,375.35L141.14,377.45L139.04,375.35Z" fill="#ff0000"/><path d="M145.76,373.85L147.86,375.95L145.76,378.05L143.66,375.95Z" fill="#ff0000"/><path d="M150.38,374.15L152.48,376.25L150.38,378.35L148.28,376.25Z" fill="#ff0000"/><path d="M39.50,226.70 C40.27,226.35 42.58,225.00 44.12,224.60 C45.66,224.20 47.20,224.33 48.74,224.30 C50.28,224.28 51.82,224.40 53.36,224.45 C54.90,224.50 56.44,224.53 57.98,224.60 C59.52,224.67 61.06,224.77 62.60,224.90 C64.14,225.02 65.68,225.17 67.22,225.35 C68.76,225.53 70.30,225.75 71.84,225.95 C73.38,226.15 74.92,226.12 76.46,226.55 C78.00,226.97 79.54,227.60 81.08,228.50 C82.62,229.40 84.16,230.85 85.70,231.95 C87.24,233.05 88.78,233.92 90.32,235.10 C91.86,236.28 93.40,237.57 94.94,239.00 C96.48,240.43 98.02,242.03 99.56,243.65 C101.10,245.28 102.64,246.53 104.18,248.75 C105.72,250.97 107.26,254.28 108.80,257.00 C110.34,259.73 111.88,262.52 113.42,265.10 C114.96,267.67 116.50,269.60 118.04,272.45 C119.58,275.30 121.12,279.20 122.66,282.20 C124.20,285.20 125.74,287.35 127.28,290.45 C128.82,293.55 130.36,297.70 131.90,300.80 C133.44,303.90 134.98,306.25 136.52,309.05 C138.06,311.85 139.60,314.83 141.14,317.60 C142.68,320.38 144.22,323.23 145.76,325.70 C147.30,328.17 148.84,330.27 150.38,332.45 C151.92,334.62 153.46,336.75 155.00,338.75 C156.54,340.75 158.08,342.68 159.62,344.45 C161.16,346.22 162.70,347.97 164.24,349.40 C165.78,350.82 167.32,351.90 168.86,353.00 C170.40,354.10 171.94,355.05 173.48,356.00 C175.02,356.95 176.56,357.82 178.10,358.70 C179.64,359.57 181.18,360.57 182.72,361.25 C184.26,361.93 185.80,362.20 187.34,362.75 C188.88,363.30 190.42,364.05 191.96,364.55 C193.50,365.05 195.04,365.23 196.58,365.75 C198.12,366.27 200.43,367.38 201.20,367.70" fill="none" stroke="#3030ff" stroke-width="0.80"/><path d="M39.50,224.00L42.10,228.60L36.90,228.60Z" fill="#0000ff"/><path d="M44.12,221.90L46.72,226.50L41.52,226.50Z" fill="#0000ff"/><path d="M48.74,221.60L51.34,226.20L46.14,226.20Z" fill="#0000ff"/><path d="M53.36,221.75L55.96,226.35L50.76,226.35Z" fill="#0000ff"/><path d="M57.98,221.90L60.58,226.50L55.38,226.50Z" fill="#0000ff"/><path d="M62.60,222.20L65.20,226.80L60.00,226.80Z" fill="#0000ff"/><path d="M67.22,222.65L69.82,227.25L64.62,227.25Z" fill="#0000ff"/><path d="M71.84,223.25L74.44,227.85L69.24,227.85Z" fill="#0000ff"/><path d="M76.46,223.85L79.06,228.45L73.86,228.45Z" fill="#0000ff"/><path d="M81.08,225.80L83.68,230.40L78.48,230.40Z" fill="#0000ff"/><path d="M85.70,229.25L88.30,233.85L83.10,233.85Z" fill="#0000ff"/><path d="M90.32,232.40L92.92,237.00L87.72,237.00Z" fill="#0000ff"/><path d="M94.94,236.30L97.54,240.90L92.34,240.90Z" fill="#0000ff"/><path d="M99.56,240.95L102.16,245.55L96.96,245.55Z" fill="#0000ff"/><path d="M104.18,246.05L106.78,250.65L101.58,250.65Z" fill="#0000ff"/><path d="M108.80,254.30L111.40,258.90L106.20,258.90Z" fill="#0000ff"/><path d="M113.42,262.40L116.02,267.00L110.82,267.00Z" fill="#0000ff"/><path d="M118.04,269.75L120.64,274.35L115.44,274.35Z" fill="#0000ff"/><path d="M122.66,279.50L125.26,284.10L120.06,284.10Z" fill="#0000ff"/><path d="M127.28,287.75L129.88,292.35L124.68,292.35Z" fill="#0000ff"/><path d="M131.90,298.10L134.50,302.70L129.30,302.70Z" fill="#0000ff"/><path d="M136.52,306.35L139.12,310.95L133.92,310.95Z" fill="#0000ff"/><path d="M141.14,314.90L143.74,319.50L138.54,319.50Z" fill="#0000ff"/><path d="M145.76,323.00L148.36,327.60L143.16,327.60Z" fill="#0000ff"/><path d="M150.38,329.75L152.98,334.35L147.78,334.35Z" fill="#0000ff"/><path d="M155.00,336.05L157.60,340.65L152.40,340.65Z" fill="#0000ff"/><path d="M159.62,341.75L162.22,346.35L157.02,346.35Z" fill="#0000ff"/><path d="M164.24,346.70L166.84,351.30L161.64,351.30Z" fill="#0000ff"/><path d="M168.86,350.30L171.46,354.90L166.26,354.90Z" fill="#0000ff"/><path d="M173.48,353.30L176.08,357.90L170.88,357.90Z" fill="#0000ff"/><path d="M178.10,356.00L180.70,360.60L175.50,360.60Z" fill="#0000ff"/><path d="M182.72,358.55L185.32,363.15L180.12,363.15Z" fill="#0000ff"/><path d="M187.34,360.05L189.94,364.65L184.74,364.65Z" fill="#0000ff"/><path d="M191.96,361.85L194.56,366.45L189.36,366.45Z" fill="#0000ff"/><path d="M196.58,363.05L199.18,367.65L193.98,367.65Z" fill="#0000ff"/><path d="M201.20,365.00L203.80,369.60L198.60,369.60Z" fill="#0000ff"/><path d="M85.70,227.90 C86.47,227.88 88.78,227.78 90.32,227.75 C91.86,227.72 93.40,227.75 94.94,227.75 C96.48,227.75 98.02,227.75 99.56,227.75 C101.10,227.75 102.64,227.80 104.18,227.75 C105.72,227.70 107.26,227.50 108.80,227.45 C110.34,227.40 111.88,227.38 113.42,227.45 C114.96,227.52 116.50,227.65 118.04,227.90 C119.58,228.15 121.12,228.47 122.66,228.95 C124.20,229.42 125.74,230.35 127.28,230.75 C128.82,231.15 130.36,231.07 131.90,231.35 C133.44,231.62 134.98,232.27 136.52,232.40 C138.06,232.52 139.60,232.03 141.14,232.10 C142.68,232.17 144.22,232.45 145.76,232.85 C147.30,233.25 148.84,234.20 150.38,234.50 C151.92,234.80 153.46,234.12 155.00,234.65 C156.54,235.17 158.08,236.95 159.62,237.65 C161.16,238.35 162.70,238.17 164.24,238.85 C165.78,239.52 167.32,240.85 168.86,241.70 C170.40,242.55 171.94,243.32 173.48,243.95 C175.02,244.57 176.56,244.90 178.10,245.45 C179.64,246.00 181.18,246.70 182.72,247.25 C184.26,247.80 185.80,248.25 187.34,248.75 C188.88,249.25 190.42,249.72 191.96,250.25 C193.50,250.78 195.04,251.15 196.58,251.90 C198.12,252.65 200.43,254.28 201.20,254.75" fill="none" stroke="#1a8c8c" stroke-width="0.80"/><path d="M85.70,230.70L88.30,226.10L83.10,226.10Z" fill="#008080"/><path d="M90.32,230.55L92.92,225.95L87.72,225.95Z" fill="#008080"/><path d="M94.94,230.55L97.54,225.95L92.34,225.95Z" fill="#008080"/><path d="M99.56,230.55L102.16,225.95L96.96,225.95Z" fill="#008080"/><path d="M104.18,230.55L106.78,225.95L101.58,225.95Z" fill="#008080"/><path d="M108.80,230.25L111.40,225.65L106.20,225.65Z" fill="#008080"/><path d="M113.42,230.25L116.02,225.65L110.82,225.65Z" fill="#008080"/><path d="M118.04,230.70L120.64,226.10L115.44,226.10Z" fill="#008080"/><path d="M122.66,231.75L125.26,227.15L120.06,227.15Z" fill="#008080"/><path d="M127.28,233.55L129.88,228.95L124.68,228.95Z" fill="#008080"/><path d="M131.90,234.15L134.50,229.55L129.30,229.55Z" fill="#008080"/><path d="M136.52,235.20L139.12,230.60L133.92,230.60Z" fill="#008080"/><path d="M141.14,234.90L143.74,230.30L138.54,230.30Z" fill="#008080"/><path d="M145.76,235.65L148.36,231.05L143.16,231.05Z" fill="#008080"/><path d="M150.38,237.30L152.98,232.70L147.78,232.70Z" fill="#008080"/><path d="M155.00,237.45L157.60,232.85L152.40,232.85Z" fill="#008080"/><path d="M159.62,240.45L162.22,235.85L157.02,235.85Z" fill="#008080"/><path d="M164.24,241.65L166.84,237.05L161.64,237.05Z" fill="#008080"/><path d="M168.86,244.50L171.46,239.90L166.26,239.90Z" fill="#008080"/><path d="M173.48,246.75L176.08,242.15L170.88,242.15Z" fill="#008080"/><path d="M178.10,248.25L180.70,243.65L175.50,243.65Z" fill="#008080"/><path d="M182.72,250.05L185.32,245.45L180.12,245.45Z" fill="#008080"/><path d="M187.34,251.55L189.94,246.95L184.74,246.95Z" fill="#008080"/><path d="M191.96,253.05L194.56,248.45L189.36,248.45Z" fill="#008080"/><path d="M196.58,254.70L199.18,250.10L193.98,250.10Z" fill="#008080"/><path d="M201.20,257.55L203.80,252.95L198.60,252.95Z" fill="#008080"/></g>
<rect x="39.50" y="213.20" width="231.00" height="165.00" fill="none" stroke="#5a5a5a" stroke-width="1.1"/>
<line x1="39.50" y1="378.20" x2="39.50" y2="381.80" stroke="#5a5a5a" stroke-width="1"/>
<line x1="62.60" y1="378.20" x2="62.60" y2="381.80" stroke="#5a5a5a" stroke-width="1"/>
<line x1="85.70" y1="378.20" x2="85.70" y2="381.80" stroke="#5a5a5a" stroke-width="1"/>
<line x1="108.80" y1="378.20" x2="108.80" y2="381.80" stroke="#5a5a5a" stroke-width="1"/>
<line x1="131.90" y1="378.20" x2="131.90" y2="381.80" stroke="#5a5a5a" stroke-width="1"/>
<line x1="155.00" y1="378.20" x2="155.00" y2="381.80" stroke="#5a5a5a" stroke-width="1"/>
<line x1="178.10" y1="378.20" x2="178.10" y2="381.80" stroke="#5a5a5a" stroke-width="1"/>
<line x1="201.20" y1="378.20" x2="201.20" y2="381.80" stroke="#5a5a5a" stroke-width="1"/>
<line x1="224.30" y1="378.20" x2="224.30" y2="381.80" stroke="#5a5a5a" stroke-width="1"/>
<line x1="247.40" y1="378.20" x2="247.40" y2="381.80" stroke="#5a5a5a" stroke-width="1"/>
<line x1="270.50" y1="378.20" x2="270.50" y2="381.80" stroke="#5a5a5a" stroke-width="1"/>
<line x1="51.05" y1="378.20" x2="51.05" y2="380.00" stroke="#5a5a5a" stroke-width="1"/>
<line x1="74.15" y1="378.20" x2="74.15" y2="380.00" stroke="#5a5a5a" stroke-width="1"/>
<line x1="97.25" y1="378.20" x2="97.25" y2="380.00" stroke="#5a5a5a" stroke-width="1"/>
<line x1="120.35" y1="378.20" x2="120.35" y2="380.00" stroke="#5a5a5a" stroke-width="1"/>
<line x1="143.45" y1="378.20" x2="143.45" y2="380.00" stroke="#5a5a5a" stroke-width="1"/>
<line x1="166.55" y1="378.20" x2="166.55" y2="380.00" stroke="#5a5a5a" stroke-width="1"/>
<line x1="189.65" y1="378.20" x2="189.65" y2="380.00" stroke="#5a5a5a" stroke-width="1"/>
<line x1="212.75" y1="378.20" x2="212.75" y2="380.00" stroke="#5a5a5a" stroke-width="1"/>
<line x1="235.85" y1="378.20" x2="235.85" y2="380.00" stroke="#5a5a5a" stroke-width="1"/>
<line x1="258.95" y1="378.20" x2="258.95" y2="380.00" stroke="#5a5a5a" stroke-width="1"/>
<line x1="36.20" y1="378.20" x2="39.50" y2="378.20" stroke="#5a5a5a" stroke-width="1"/>
<line x1="36.20" y1="348.20" x2="39.50" y2="348.20" stroke="#5a5a5a" stroke-width="1"/>
<line x1="36.20" y1="318.20" x2="39.50" y2="318.20" stroke="#5a5a5a" stroke-width="1"/>
<line x1="36.20" y1="288.20" x2="39.50" y2="288.20" stroke="#5a5a5a" stroke-width="1"/>
<line x1="36.20" y1="258.20" x2="39.50" y2="258.20" stroke="#5a5a5a" stroke-width="1"/>
<line x1="36.20" y1="228.20" x2="39.50" y2="228.20" stroke="#5a5a5a" stroke-width="1"/>
<line x1="37.70" y1="363.20" x2="39.50" y2="363.20" stroke="#5a5a5a" stroke-width="1"/>
<line x1="37.70" y1="333.20" x2="39.50" y2="333.20" stroke="#5a5a5a" stroke-width="1"/>
<line x1="37.70" y1="303.20" x2="39.50" y2="303.20" stroke="#5a5a5a" stroke-width="1"/>
<line x1="37.70" y1="273.20" x2="39.50" y2="273.20" stroke="#5a5a5a" stroke-width="1"/>
<line x1="37.70" y1="243.20" x2="39.50" y2="243.20" stroke="#5a5a5a" stroke-width="1"/>
<line x1="37.70" y1="213.20" x2="39.50" y2="213.20" stroke="#5a5a5a" stroke-width="1"/>
<text transform="translate(39.30,387.40) scale(0.800,1)" font-size="6.6" font-family="Liberation Sans, sans-serif" font-weight="bold" text-anchor="middle" fill="#1a1a1a" letter-spacing="0.8">15</text>
<text transform="translate(62.40,387.40) scale(0.800,1)" font-size="6.6" font-family="Liberation Sans, sans-serif" font-weight="bold" text-anchor="middle" fill="#1a1a1a" letter-spacing="0.8">20</text>
<text transform="translate(85.50,387.40) scale(0.800,1)" font-size="6.6" font-family="Liberation Sans, sans-serif" font-weight="bold" text-anchor="middle" fill="#1a1a1a" letter-spacing="0.8">25</text>
<text transform="translate(108.60,387.40) scale(0.800,1)" font-size="6.6" font-family="Liberation Sans, sans-serif" font-weight="bold" text-anchor="middle" fill="#1a1a1a" letter-spacing="0.8">30</text>
<text transform="translate(131.70,387.40) scale(0.800,1)" font-size="6.6" font-family="Liberation Sans, sans-serif" font-weight="bold" text-anchor="middle" fill="#1a1a1a" letter-spacing="0.8">35</text>
<text transform="translate(154.80,387.40) scale(0.800,1)" font-size="6.6" font-family="Liberation Sans, sans-serif" font-weight="bold" text-anchor="middle" fill="#1a1a1a" letter-spacing="0.8">40</text>
<text transform="translate(177.90,387.40) scale(0.800,1)" font-size="6.6" font-family="Liberation Sans, sans-serif" font-weight="bold" text-anchor="middle" fill="#1a1a1a" letter-spacing="0.8">45</text>
<text transform="translate(201.00,387.40) scale(0.800,1)" font-size="6.6" font-family="Liberation Sans, sans-serif" font-weight="bold" text-anchor="middle" fill="#1a1a1a" letter-spacing="0.8">50</text>
<text transform="translate(224.10,387.40) scale(0.800,1)" font-size="6.6" font-family="Liberation Sans, sans-serif" font-weight="bold" text-anchor="middle" fill="#1a1a1a" letter-spacing="0.8">55</text>
<text transform="translate(247.20,387.40) scale(0.800,1)" font-size="6.6" font-family="Liberation Sans, sans-serif" font-weight="bold" text-anchor="middle" fill="#1a1a1a" letter-spacing="0.8">60</text>
<text transform="translate(270.30,387.40) scale(0.800,1)" font-size="6.6" font-family="Liberation Sans, sans-serif" font-weight="bold" text-anchor="middle" fill="#1a1a1a" letter-spacing="0.8">65</text>
<text transform="translate(33.90,379.50) scale(0.800,1)" font-size="6.6" font-family="Liberation Sans, sans-serif" font-weight="bold" text-anchor="end" fill="#1a1a1a" letter-spacing="0.8">0</text>
<text transform="translate(33.90,349.50) scale(0.800,1)" font-size="6.6" font-family="Liberation Sans, sans-serif" font-weight="bold" text-anchor="end" fill="#1a1a1a" letter-spacing="0.8">20</text>
<text transform="translate(33.90,319.50) scale(0.800,1)" font-size="6.6" font-family="Liberation Sans, sans-serif" font-weight="bold" text-anchor="end" fill="#1a1a1a" letter-spacing="0.8">40</text>
<text transform="translate(33.90,289.50) scale(0.800,1)" font-size="6.6" font-family="Liberation Sans, sans-serif" font-weight="bold" text-anchor="end" fill="#1a1a1a" letter-spacing="0.8">60</text>
<text transform="translate(33.90,259.50) scale(0.800,1)" font-size="6.6" font-family="Liberation Sans, sans-serif" font-weight="bold" text-anchor="end" fill="#1a1a1a" letter-spacing="0.8">80</text>
<text transform="translate(33.90,229.50) scale(0.800,1)" font-size="6.6" font-family="Liberation Sans, sans-serif" font-weight="bold" text-anchor="end" fill="#1a1a1a" letter-spacing="0.8">100</text>
<text x="148.00" y="401.30" font-size="7.6" font-family="Liberation Sans, sans-serif" font-weight="bold" text-anchor="middle" fill="#111" letter-spacing="0.06">Temperature (<tspan dy="-1.4">&#176;</tspan><tspan dy="1.4">C)</tspan></text>
<text transform="translate(18.60,297.40) rotate(-90)" font-size="7.6" font-family="Liberation Sans, sans-serif" font-weight="bold" text-anchor="middle" fill="#111" letter-spacing="0.1">Transmittance (%)</text>
<text transform="translate(10.40,222.00) scale(0.900,1)" font-size="28.5" font-family="Liberation Serif, serif" font-weight="bold" fill="#000">c</text>
<rect x="206.50" y="215.60" width="60.60" height="36.90" fill="#fff" stroke="#5a5a5a" stroke-width="1"/>
<line x1="208.10" y1="220.20" x2="225.90" y2="220.20" stroke="#6a6a6a" stroke-width="1"/>
<rect x="214.99" y="218.19" width="4.02" height="4.02" fill="#000000"/>
<text x="228.10" y="222.70" font-size="7" font-family="Liberation Sans, sans-serif" font-weight="bold" fill="#1a1a1a" letter-spacing="0.25">4.0 mg/mL</text>
<line x1="208.10" y1="229.65" x2="225.90" y2="229.65" stroke="#ff2020" stroke-width="1"/>
<path d="M217.00,227.23L219.41,229.65L217.00,232.06L214.59,229.65Z" fill="#ff0000"/>
<text x="228.10" y="232.15" font-size="7" font-family="Liberation Sans, sans-serif" font-weight="bold" fill="#1a1a1a" letter-spacing="0.25">2.0 mg/mL</text>
<line x1="208.10" y1="239.10" x2="225.90" y2="239.10" stroke="#2020ff" stroke-width="1"/>
<path d="M217.00,236.65L219.60,241.25L214.40,241.25Z" fill="#0000ff"/>
<text x="228.10" y="241.60" font-size="7" font-family="Liberation Sans, sans-serif" font-weight="bold" fill="#1a1a1a" letter-spacing="0.25">1.0 mg/mL</text>
<line x1="208.10" y1="248.55" x2="225.90" y2="248.55" stroke="#60b0b0" stroke-width="1"/>
<path d="M217.00,251.00L219.60,246.40L214.40,246.40Z" fill="#008080"/>
<text x="228.10" y="251.05" font-size="7" font-family="Liberation Sans, sans-serif" font-weight="bold" fill="#1a1a1a" letter-spacing="0.25">0.5 mg/mL</text>
<clipPath id="cd"><rect x="309.50" y="210.40" width="235.00" height="168.20"/></clipPath>
<g clip-path="url(#cd)"><path d="M309.50,228.58 C310.27,228.01 312.58,225.57 314.12,225.15 C315.66,224.72 317.28,223.88 318.74,226.04 C320.20,228.21 321.59,234.40 322.90,238.13 C324.21,241.87 325.82,245.57 326.59,248.43 C327.36,251.30 326.67,250.57 327.52,255.30 C328.36,260.03 330.21,269.28 331.68,276.80 C333.14,284.31 334.68,292.69 336.30,300.38 C337.91,308.07 339.76,316.33 341.38,322.92 C343.00,329.51 344.46,334.71 346.00,339.94 C347.54,345.16 349.08,350.44 350.62,354.27 C352.16,358.10 353.62,360.46 355.24,362.93 C356.86,365.39 358.70,367.43 360.32,369.05 C361.94,370.66 363.48,371.81 364.94,372.63 C366.40,373.45 367.63,373.55 369.10,373.97 C370.56,374.40 372.25,374.94 373.72,375.17 C375.18,375.39 377.18,375.29 377.88,375.32" fill="none" stroke="#333333" stroke-width="0.80"/><rect x="307.75" y="226.83" width="3.50" height="3.50" fill="#000000"/><rect x="312.37" y="223.40" width="3.50" height="3.50" fill="#000000"/><rect x="316.99" y="224.29" width="3.50" height="3.50" fill="#000000"/><rect x="321.15" y="236.38" width="3.50" height="3.50" fill="#000000"/><rect x="324.84" y="246.68" width="3.50" height="3.50" fill="#000000"/><rect x="325.77" y="253.55" width="3.50" height="3.50" fill="#000000"/><rect x="329.93" y="275.05" width="3.50" height="3.50" fill="#000000"/><rect x="334.55" y="298.63" width="3.50" height="3.50" fill="#000000"/><rect x="339.63" y="321.17" width="3.50" height="3.50" fill="#000000"/><rect x="344.25" y="338.19" width="3.50" height="3.50" fill="#000000"/><rect x="348.87" y="352.52" width="3.50" height="3.50" fill="#000000"/><rect x="353.49" y="361.18" width="3.50" height="3.50" fill="#000000"/><rect x="358.57" y="367.30" width="3.50" height="3.50" fill="#000000"/><rect x="363.19" y="370.88" width="3.50" height="3.50" fill="#000000"/><rect x="367.35" y="372.22" width="3.50" height="3.50" fill="#000000"/><rect x="371.97" y="373.42" width="3.50" height="3.50" fill="#000000"/><rect x="376.13" y="373.57" width="3.50" height="3.50" fill="#000000"/><path d="M309.50,227.83 C310.27,226.84 312.58,222.86 314.12,221.86 C315.66,220.87 317.20,221.42 318.74,221.86 C320.28,222.31 321.82,223.43 323.36,224.55 C324.90,225.67 326.44,226.69 327.98,228.58 C329.52,230.47 331.06,233.11 332.60,235.90 C334.14,238.68 335.68,241.64 337.22,245.30 C338.76,248.96 340.30,253.31 341.84,257.84 C343.38,262.37 344.92,267.84 346.46,272.47 C348.00,277.09 349.54,280.35 351.08,285.60 C352.62,290.85 354.16,298.64 355.70,303.96 C357.24,309.29 358.78,313.27 360.32,317.55 C361.86,321.83 363.40,325.56 364.94,329.64 C366.48,333.72 368.02,338.17 369.56,342.03 C371.10,345.88 372.64,349.72 374.18,352.78 C375.72,355.84 377.41,358.45 378.80,360.39 C380.19,362.33 381.03,363.13 382.50,364.42 C383.96,365.71 385.96,366.93 387.58,368.15 C389.19,369.37 390.66,370.84 392.20,371.73 C393.74,372.63 395.20,373.15 396.82,373.52 C398.44,373.90 400.44,373.85 401.90,373.97 C403.36,374.10 404.13,374.12 405.60,374.27 C407.06,374.42 409.83,374.77 410.68,374.87" fill="none" stroke="#ff3030" stroke-width="0.80"/><path d="M309.50,225.73L311.60,227.83L309.50,229.93L307.40,227.83Z" fill="#ff0000"/><path d="M314.12,219.76L316.22,221.86L314.12,223.96L312.02,221.86Z" fill="#ff0000"/><path d="M318.74,219.76L320.84,221.86L318.74,223.96L316.64,221.86Z" fill="#ff0000"/><path d="M323.36,222.45L325.46,224.55L323.36,226.65L321.26,224.55Z" fill="#ff0000"/><path d="M327.98,226.48L330.08,228.58L327.98,230.68L325.88,228.58Z" fill="#ff0000"/><path d="M332.60,233.80L334.70,235.90L332.60,238.00L330.50,235.90Z" fill="#ff0000"/><path d="M337.22,243.20L339.32,245.30L337.22,247.40L335.12,245.30Z" fill="#ff0000"/><path d="M341.84,255.74L343.94,257.84L341.84,259.94L339.74,257.84Z" fill="#ff0000"/><path d="M346.46,270.37L348.56,272.47L346.46,274.57L344.36,272.47Z" fill="#ff0000"/><path d="M351.08,283.50L353.18,285.60L351.08,287.70L348.98,285.60Z" fill="#ff0000"/><path d="M355.70,301.86L357.80,303.96L355.70,306.06L353.60,303.96Z" fill="#ff0000"/><path d="M360.32,315.45L362.42,317.55L360.32,319.65L358.22,317.55Z" fill="#ff0000"/><path d="M364.94,327.54L367.04,329.64L364.94,331.74L362.84,329.64Z" fill="#ff0000"/><path d="M369.56,339.93L371.66,342.03L369.56,344.13L367.46,342.03Z" fill="#ff0000"/><path d="M374.18,350.68L376.28,352.78L374.18,354.88L372.08,352.78Z" fill="#ff0000"/><path d="M378.80,358.29L380.90,360.39L378.80,362.49L376.70,360.39Z" fill="#ff0000"/><path d="M382.50,362.32L384.60,364.42L382.50,366.52L380.40,364.42Z" fill="#ff0000"/><path d="M387.58,366.05L389.68,368.15L387.58,370.25L385.48,368.15Z" fill="#ff0000"/><path d="M392.20,369.63L394.30,371.73L392.20,373.83L390.10,371.73Z" fill="#ff0000"/><path d="M396.82,371.42L398.92,373.52L396.82,375.62L394.72,373.52Z" fill="#ff0000"/><path d="M401.90,371.87L404.00,373.97L401.90,376.07L399.80,373.97Z" fill="#ff0000"/><path d="M405.60,372.17L407.70,374.27L405.60,376.37L403.50,374.27Z" fill="#ff0000"/><path d="M410.68,372.77L412.78,374.87L410.68,376.97L408.58,374.87Z" fill="#ff0000"/><path d="M309.50,227.69 C310.27,227.41 312.58,226.27 314.12,226.04 C315.66,225.82 317.20,226.14 318.74,226.34 C320.28,226.54 321.82,226.96 323.36,227.24 C324.90,227.51 326.44,227.74 327.98,227.98 C329.52,228.23 331.06,228.26 332.60,228.73 C334.14,229.20 335.68,230.10 337.22,230.82 C338.76,231.54 340.30,232.24 341.84,233.06 C343.38,233.88 344.92,234.68 346.46,235.75 C348.00,236.82 349.54,238.21 351.08,239.48 C352.62,240.75 354.16,241.67 355.70,243.36 C357.24,245.05 358.78,247.59 360.32,249.63 C361.86,251.67 363.40,252.99 364.94,255.60 C366.48,258.21 368.02,262.17 369.56,265.30 C371.10,268.44 372.64,271.67 374.18,274.41 C375.72,277.14 377.26,278.96 378.80,281.72 C380.34,284.48 381.88,287.89 383.42,290.98 C384.96,294.06 386.50,296.72 388.04,300.23 C389.58,303.74 391.12,308.44 392.66,312.02 C394.20,315.61 395.74,318.64 397.28,321.73 C398.82,324.81 400.36,327.65 401.90,330.53 C403.44,333.42 404.98,336.46 406.52,339.04 C408.06,341.63 409.60,343.99 411.14,346.06 C412.68,348.12 414.22,349.72 415.76,351.43 C417.30,353.15 418.84,354.94 420.38,356.36 C421.92,357.78 423.46,358.72 425.00,359.94 C426.54,361.16 428.08,362.55 429.62,363.67 C431.16,364.79 432.70,365.91 434.24,366.66 C435.78,367.40 437.32,367.63 438.86,368.15 C440.40,368.67 441.94,369.30 443.48,369.79 C445.02,370.29 446.56,370.71 448.10,371.14 C449.64,371.56 451.18,371.93 452.72,372.33 C454.26,372.73 455.80,373.23 457.34,373.52 C458.88,373.82 461.19,374.02 461.96,374.12" fill="none" stroke="#3030ff" stroke-width="0.80"/><path d="M309.50,224.99L312.10,229.59L306.90,229.59Z" fill="#0000ff"/><path d="M314.12,223.34L316.72,227.94L311.52,227.94Z" fill="#0000ff"/><path d="M318.74,223.64L321.34,228.24L316.14,228.24Z" fill="#0000ff"/><path d="M323.36,224.54L325.96,229.14L320.76,229.14Z" fill="#0000ff"/><path d="M327.98,225.28L330.58,229.88L325.38,229.88Z" fill="#0000ff"/><path d="M332.60,226.03L335.20,230.63L330.00,230.63Z" fill="#0000ff"/><path d="M337.22,228.12L339.82,232.72L334.62,232.72Z" fill="#0000ff"/><path d="M341.84,230.36L344.44,234.96L339.24,234.96Z" fill="#0000ff"/><path d="M346.46,233.05L349.06,237.65L343.86,237.65Z" fill="#0000ff"/><path d="M351.08,236.78L353.68,241.38L348.48,241.38Z" fill="#0000ff"/><path d="M355.70,240.66L358.30,245.26L353.10,245.26Z" fill="#0000ff"/><path d="M360.32,246.93L362.92,251.53L357.72,251.53Z" fill="#0000ff"/><path d="M364.94,252.90L367.54,257.50L362.34,257.50Z" fill="#0000ff"/><path d="M369.56,262.60L372.16,267.20L366.96,267.20Z" fill="#0000ff"/><path d="M374.18,271.71L376.78,276.31L371.58,276.31Z" fill="#0000ff"/><path d="M378.80,279.02L381.40,283.62L376.20,283.62Z" fill="#0000ff"/><path d="M383.42,288.28L386.02,292.88L380.82,292.88Z" fill="#0000ff"/><path d="M388.04,297.53L390.64,302.13L385.44,302.13Z" fill="#0000ff"/><path d="M392.66,309.32L395.26,313.92L390.06,313.92Z" fill="#0000ff"/><path d="M397.28,319.03L399.88,323.63L394.68,323.63Z" fill="#0000ff"/><path d="M401.90,327.83L404.50,332.43L399.30,332.43Z" fill="#0000ff"/><path d="M406.52,336.34L409.12,340.94L403.92,340.94Z" fill="#0000ff"/><path d="M411.14,343.36L413.74,347.96L408.54,347.96Z" fill="#0000ff"/><path d="M415.76,348.73L418.36,353.33L413.16,353.33Z" fill="#0000ff"/><path d="M420.38,353.66L422.98,358.26L417.78,358.26Z" fill="#0000ff"/><path d="M425.00,357.24L427.60,361.84L422.40,361.84Z" fill="#0000ff"/><path d="M429.62,360.97L432.22,365.57L427.02,365.57Z" fill="#0000ff"/><path d="M434.24,363.96L436.84,368.56L431.64,368.56Z" fill="#0000ff"/><path d="M438.86,365.45L441.46,370.05L436.26,370.05Z" fill="#0000ff"/><path d="M443.48,367.09L446.08,371.69L440.88,371.69Z" fill="#0000ff"/><path d="M448.10,368.44L450.70,373.04L445.50,373.04Z" fill="#0000ff"/><path d="M452.72,369.63L455.32,374.23L450.12,374.23Z" fill="#0000ff"/><path d="M457.34,370.82L459.94,375.42L454.74,375.42Z" fill="#0000ff"/><path d="M461.96,371.42L464.56,376.02L459.36,376.02Z" fill="#0000ff"/><path d="M332.60,229.03 C333.37,229.15 335.68,229.65 337.22,229.78 C338.76,229.90 340.30,229.82 341.84,229.78 C343.38,229.73 344.92,229.40 346.46,229.48 C348.00,229.55 349.54,230.10 351.08,230.22 C352.62,230.35 354.16,230.42 355.70,230.22 C357.24,230.02 358.78,229.40 360.32,229.03 C361.86,228.66 363.40,227.86 364.94,227.98 C366.48,228.11 368.02,229.40 369.56,229.78 C371.10,230.15 372.64,230.15 374.18,230.22 C375.72,230.30 377.26,230.12 378.80,230.22 C380.34,230.32 381.88,230.72 383.42,230.82 C384.96,230.92 386.50,230.65 388.04,230.82 C389.58,230.99 391.12,231.59 392.66,231.86 C394.20,232.14 395.74,232.26 397.28,232.46 C398.82,232.66 400.36,232.81 401.90,233.06 C403.44,233.31 404.98,233.73 406.52,233.95 C408.06,234.18 409.60,234.08 411.14,234.40 C412.68,234.73 414.22,235.22 415.76,235.90 C417.30,236.57 418.84,237.76 420.38,238.43 C421.92,239.10 423.46,239.35 425.00,239.93 C426.54,240.50 428.08,241.22 429.62,241.87 C431.16,242.51 432.70,243.21 434.24,243.81 C435.78,244.40 437.32,244.93 438.86,245.45 C440.40,245.97 441.94,246.29 443.48,246.94 C445.02,247.59 446.56,248.53 448.10,249.33 C449.64,250.13 451.18,251.05 452.72,251.72 C454.26,252.39 455.80,252.84 457.34,253.36 C458.88,253.88 460.42,254.38 461.96,254.85 C463.50,255.33 465.81,255.97 466.58,256.20" fill="none" stroke="#1a8c8c" stroke-width="0.80"/><path d="M332.60,231.83L335.20,227.23L330.00,227.23Z" fill="#008080"/><path d="M337.22,232.58L339.82,227.98L334.62,227.98Z" fill="#008080"/><path d="M341.84,232.58L344.44,227.98L339.24,227.98Z" fill="#008080"/><path d="M346.46,232.28L349.06,227.68L343.86,227.68Z" fill="#008080"/><path d="M351.08,233.02L353.68,228.42L348.48,228.42Z" fill="#008080"/><path d="M355.70,233.02L358.30,228.42L353.10,228.42Z" fill="#008080"/><path d="M360.32,231.83L362.92,227.23L357.72,227.23Z" fill="#008080"/><path d="M364.94,230.78L367.54,226.18L362.34,226.18Z" fill="#008080"/><path d="M369.56,232.58L372.16,227.98L366.96,227.98Z" fill="#008080"/><path d="M374.18,233.02L376.78,228.42L371.58,228.42Z" fill="#008080"/><path d="M378.80,233.02L381.40,228.42L376.20,228.42Z" fill="#008080"/><path d="M383.42,233.62L386.02,229.02L380.82,229.02Z" fill="#008080"/><path d="M388.04,233.62L390.64,229.02L385.44,229.02Z" fill="#008080"/><path d="M392.66,234.66L395.26,230.06L390.06,230.06Z" fill="#008080"/><path d="M397.28,235.26L399.88,230.66L394.68,230.66Z" fill="#008080"/><path d="M401.90,235.86L404.50,231.26L399.30,231.26Z" fill="#008080"/><path d="M406.52,236.75L409.12,232.15L403.92,232.15Z" fill="#008080"/><path d="M411.14,237.20L413.74,232.60L408.54,232.60Z" fill="#008080"/><path d="M415.76,238.70L418.36,234.10L413.16,234.10Z" fill="#008080"/><path d="M420.38,241.23L422.98,236.63L417.78,236.63Z" fill="#008080"/><path d="M425.00,242.73L427.60,238.13L422.40,238.13Z" fill="#008080"/><path d="M429.62,244.67L432.22,240.07L427.02,240.07Z" fill="#008080"/><path d="M434.24,246.61L436.84,242.01L431.64,242.01Z" fill="#008080"/><path d="M438.86,248.25L441.46,243.65L436.26,243.65Z" fill="#008080"/><path d="M443.48,249.74L446.08,245.14L440.88,245.14Z" fill="#008080"/><path d="M448.10,252.13L450.70,247.53L445.50,247.53Z" fill="#008080"/><path d="M452.72,254.52L455.32,249.92L450.12,249.92Z" fill="#008080"/><path d="M457.34,256.16L459.94,251.56L454.74,251.56Z" fill="#008080"/><path d="M461.96,257.65L464.56,253.05L459.36,253.05Z" fill="#008080"/><path d="M466.58,259.00L469.18,254.40L463.98,254.40Z" fill="#008080"/></g>
<rect x="309.50" y="214.40" width="231.00" height="164.20" fill="none" stroke="#5a5a5a" stroke-width="1.1"/>
<line x1="309.50" y1="378.60" x2="309.50" y2="382.20" stroke="#5a5a5a" stroke-width="1"/>
<line x1="355.70" y1="378.60" x2="355.70" y2="382.20" stroke="#5a5a5a" stroke-width="1"/>
<line x1="401.90" y1="378.60" x2="401.90" y2="382.20" stroke="#5a5a5a" stroke-width="1"/>
<line x1="448.10" y1="378.60" x2="448.10" y2="382.20" stroke="#5a5a5a" stroke-width="1"/>
<line x1="494.30" y1="378.60" x2="494.30" y2="382.20" stroke="#5a5a5a" stroke-width="1"/>
<line x1="540.50" y1="378.60" x2="540.50" y2="382.20" stroke="#5a5a5a" stroke-width="1"/>
<line x1="332.60" y1="378.60" x2="332.60" y2="380.40" stroke="#5a5a5a" stroke-width="1"/>
<line x1="378.80" y1="378.60" x2="378.80" y2="380.40" stroke="#5a5a5a" stroke-width="1"/>
<line x1="425.00" y1="378.60" x2="425.00" y2="380.40" stroke="#5a5a5a" stroke-width="1"/>
<line x1="471.20" y1="378.60" x2="471.20" y2="380.40" stroke="#5a5a5a" stroke-width="1"/>
<line x1="517.40" y1="378.60" x2="517.40" y2="380.40" stroke="#5a5a5a" stroke-width="1"/>
<line x1="306.20" y1="378.60" x2="309.50" y2="378.60" stroke="#5a5a5a" stroke-width="1"/>
<line x1="306.20" y1="348.75" x2="309.50" y2="348.75" stroke="#5a5a5a" stroke-width="1"/>
<line x1="306.20" y1="318.89" x2="309.50" y2="318.89" stroke="#5a5a5a" stroke-width="1"/>
<line x1="306.20" y1="289.04" x2="309.50" y2="289.04" stroke="#5a5a5a" stroke-width="1"/>
<line x1="306.20" y1="259.18" x2="309.50" y2="259.18" stroke="#5a5a5a" stroke-width="1"/>
<line x1="306.20" y1="229.33" x2="309.50" y2="229.33" stroke="#5a5a5a" stroke-width="1"/>
<line x1="307.70" y1="363.67" x2="309.50" y2="363.67" stroke="#5a5a5a" stroke-width="1"/>
<line x1="307.70" y1="333.82" x2="309.50" y2="333.82" stroke="#5a5a5a" stroke-width="1"/>
<line x1="307.70" y1="303.96" x2="309.50" y2="303.96" stroke="#5a5a5a" stroke-width="1"/>
<line x1="307.70" y1="274.11" x2="309.50" y2="274.11" stroke="#5a5a5a" stroke-width="1"/>
<line x1="307.70" y1="244.25" x2="309.50" y2="244.25" stroke="#5a5a5a" stroke-width="1"/>
<line x1="307.70" y1="214.40" x2="309.50" y2="214.40" stroke="#5a5a5a" stroke-width="1"/>
<text transform="translate(309.30,388.50) scale(0.800,1)" font-size="6.6" font-family="Liberation Sans, sans-serif" font-weight="bold" text-anchor="middle" fill="#1a1a1a" letter-spacing="0.8">15</text>
<text transform="translate(355.50,388.50) scale(0.800,1)" font-size="6.6" font-family="Liberation Sans, sans-serif" font-weight="bold" text-anchor="middle" fill="#1a1a1a" letter-spacing="0.8">25</text>
<text transform="translate(401.70,388.50) scale(0.800,1)" font-size="6.6" font-family="Liberation Sans, sans-serif" font-weight="bold" text-anchor="middle" fill="#1a1a1a" letter-spacing="0.8">35</text>
<text transform="translate(447.90,388.50) scale(0.800,1)" font-size="6.6" font-family="Liberation Sans, sans-serif" font-weight="bold" text-anchor="middle" fill="#1a1a1a" letter-spacing="0.8">45</text>
<text transform="translate(494.10,388.50) scale(0.800,1)" font-size="6.6" font-family="Liberation Sans, sans-serif" font-weight="bold" text-anchor="middle" fill="#1a1a1a" letter-spacing="0.8">55</text>
<text transform="translate(540.30,388.50) scale(0.800,1)" font-size="6.6" font-family="Liberation Sans, sans-serif" font-weight="bold" text-anchor="middle" fill="#1a1a1a" letter-spacing="0.8">65</text>
<text transform="translate(303.90,379.90) scale(0.800,1)" font-size="6.6" font-family="Liberation Sans, sans-serif" font-weight="bold" text-anchor="end" fill="#1a1a1a" letter-spacing="0.8">0</text>
<text transform="translate(303.90,350.05) scale(0.800,1)" font-size="6.6" font-family="Liberation Sans, sans-serif" font-weight="bold" text-anchor="end" fill="#1a1a1a" letter-spacing="0.8">20</text>
<text transform="translate(303.90,320.19) scale(0.800,1)" font-size="6.6" font-family="Liberation Sans, sans-serif" font-weight="bold" text-anchor="end" fill="#1a1a1a" letter-spacing="0.8">40</text>
<text transform="translate(303.90,290.34) scale(0.800,1)" font-size="6.6" font-family="Liberation Sans, sans-serif" font-weight="bold" text-anchor="end" fill="#1a1a1a" letter-spacing="0.8">60</text>
<text transform="translate(303.90,260.48) scale(0.800,1)" font-size="6.6" font-family="Liberation Sans, sans-serif" font-weight="bold" text-anchor="end" fill="#1a1a1a" letter-spacing="0.8">80</text>
<text transform="translate(303.90,230.63) scale(0.800,1)" font-size="6.6" font-family="Liberation Sans, sans-serif" font-weight="bold" text-anchor="end" fill="#1a1a1a" letter-spacing="0.8">100</text>
<text x="429.10" y="399.80" font-size="7.6" font-family="Liberation Sans, sans-serif" font-weight="bold" text-anchor="middle" fill="#111" letter-spacing="0.06">Temperature (<tspan dy="-1.4">&#176;</tspan><tspan dy="1.4">C)</tspan></text>
<text transform="translate(288.50,301.80) rotate(-90)" font-size="7.6" font-family="Liberation Sans, sans-serif" font-weight="bold" text-anchor="middle" fill="#111" letter-spacing="0.1">Transmittance (%)</text>
<text transform="translate(281.60,222.00) scale(0.900,1)" font-size="26.5" font-family="Liberation Serif, serif" font-weight="bold" fill="#000">d</text>
<rect x="475.80" y="215.50" width="59.70" height="38.40" fill="#fff" stroke="#5a5a5a" stroke-width="1"/>
<line x1="477.40" y1="220.50" x2="495.20" y2="220.50" stroke="#333" stroke-width="1"/>
<rect x="484.29" y="218.49" width="4.02" height="4.02" fill="#000000"/>
<text x="497.40" y="223.00" font-size="7" font-family="Liberation Sans, sans-serif" font-weight="bold" fill="#1a1a1a" letter-spacing="0.25">4.0 mg/mL</text>
<line x1="477.40" y1="230.20" x2="495.20" y2="230.20" stroke="#ff2020" stroke-width="1"/>
<path d="M486.30,227.78L488.72,230.20L486.30,232.61L483.88,230.20Z" fill="#ff0000"/>
<text x="497.40" y="232.70" font-size="7" font-family="Liberation Sans, sans-serif" font-weight="bold" fill="#1a1a1a" letter-spacing="0.25">2.0 mg/mL</text>
<line x1="477.40" y1="239.90" x2="495.20" y2="239.90" stroke="#2020ff" stroke-width="1"/>
<path d="M486.30,237.45L488.90,242.05L483.70,242.05Z" fill="#0000ff"/>
<text x="497.40" y="242.40" font-size="7" font-family="Liberation Sans, sans-serif" font-weight="bold" fill="#1a1a1a" letter-spacing="0.25">1.0 mg/mL</text>
<line x1="477.40" y1="249.60" x2="495.20" y2="249.60" stroke="#60b0b0" stroke-width="1"/>
<path d="M486.30,252.05L488.90,247.45L483.70,247.45Z" fill="#008080"/>
<text x="497.40" y="252.10" font-size="7" font-family="Liberation Sans, sans-serif" font-weight="bold" fill="#1a1a1a" letter-spacing="0.25">0.5 mg/mL</text>
</svg>
</body></html>
